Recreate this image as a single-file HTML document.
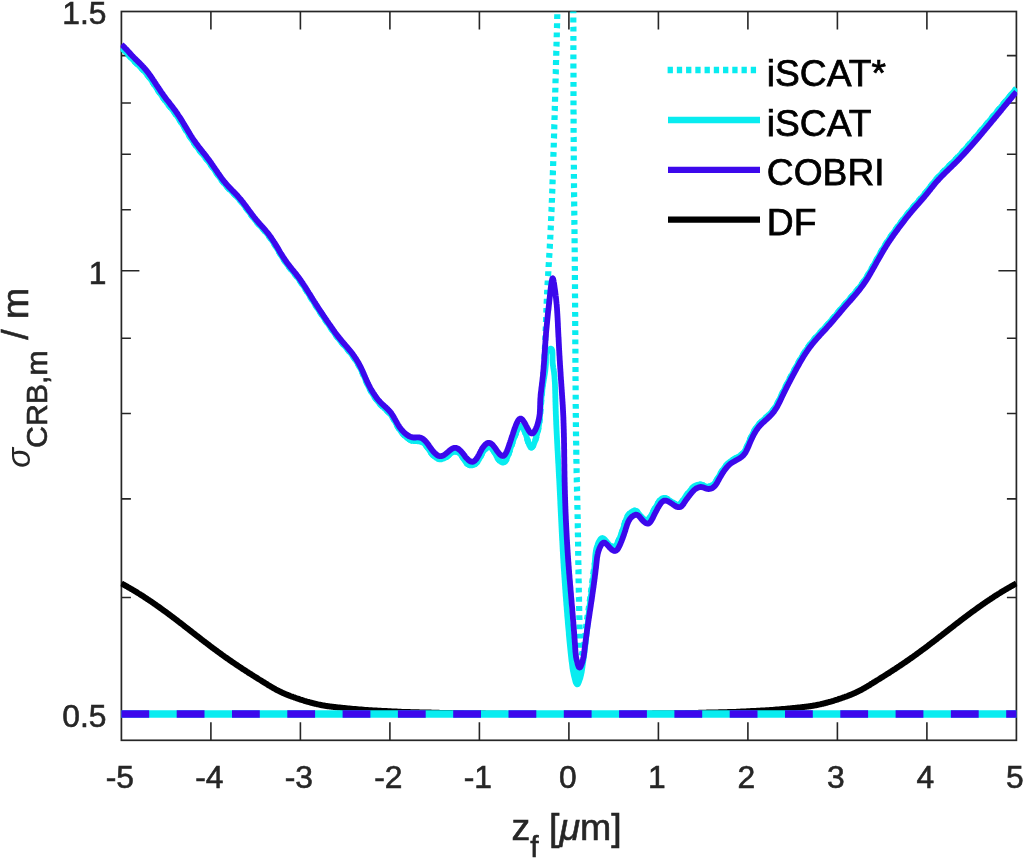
<!DOCTYPE html>
<html><head><meta charset="utf-8"><title>CRB plot</title>
<style>html,body{margin:0;padding:0;background:#fff}svg{display:block;filter:blur(0.45px)}</style></head>
<body>
<svg width="1025" height="859" viewBox="0 0 1025 859">
<defs><clipPath id="c"><rect x="120.6" y="11.5" width="896.6" height="728.8"/></clipPath></defs>
<rect width="1025" height="859" fill="#fff"/>
<path d="M210.9 740.3 v-18 M210.9 11.5 v18 M300.4 740.3 v-18 M300.4 11.5 v18 M389.9 740.3 v-18 M389.9 11.5 v18 M479.4 740.3 v-18 M479.4 11.5 v18 M568.9 740.3 v-18 M568.9 11.5 v18 M658.4 740.3 v-18 M658.4 11.5 v18 M747.9 740.3 v-18 M747.9 11.5 v18 M837.4 740.3 v-18 M837.4 11.5 v18 M926.9 740.3 v-18 M926.9 11.5 v18 M121.4 270.8 h18 M1016.4 270.8 h-18 M121.4 597.5 h9.5 M1016.4 597.5 h-9.5 M121.4 498.9 h9.5 M1016.4 498.9 h-9.5 M121.4 413.5 h9.5 M1016.4 413.5 h-9.5 M121.4 338.2 h9.5 M1016.4 338.2 h-9.5 M121.4 209.8 h9.5 M1016.4 209.8 h-9.5 M121.4 154.2 h9.5 M1016.4 154.2 h-9.5 M121.4 103.0 h9.5 M1016.4 103.0 h-9.5 M121.4 55.6 h9.5 M1016.4 55.6 h-9.5 M121.4 714.1 h18 M1016.4 714.1 h-18" stroke="#262626" stroke-width="1.6" fill="none"/>
<rect x="121.4" y="11.5" width="895.0" height="728.8" fill="none" stroke="#262626" stroke-width="1.7"/>
<g clip-path="url(#c)" fill="none" stroke-linejoin="round">
<path d="M121.4 583.4 L122.3 583.9 L123.2 584.4 L124.0 584.8 L124.9 585.3 L125.8 585.8 L126.7 586.3 L127.5 586.8 L128.4 587.3 L129.3 587.8 L130.1 588.3 L131.0 588.8 L131.9 589.3 L132.7 589.8 L133.6 590.3 L134.4 590.9 L135.3 591.4 L136.2 591.9 L137.0 592.4 L137.9 593.0 L138.7 593.5 L139.6 594.0 L140.4 594.6 L141.3 595.1 L142.1 595.6 L142.9 596.2 L143.8 596.7 L144.6 597.3 L145.5 597.8 L146.3 598.4 L147.1 598.9 L148.0 599.5 L148.8 600.0 L149.6 600.6 L150.5 601.1 L151.3 601.7 L152.1 602.3 L152.9 602.8 L153.8 603.4 L154.6 604.0 L155.4 604.5 L156.2 605.1 L157.0 605.7 L157.9 606.3 L158.7 606.9 L159.5 607.4 L160.3 608.0 L161.1 608.6 L161.9 609.2 L162.7 609.8 L163.6 610.4 L164.4 611.0 L165.2 611.5 L166.0 612.1 L166.8 612.7 L167.6 613.3 L168.4 613.9 L169.2 614.5 L170.0 615.1 L170.8 615.7 L171.6 616.3 L172.4 616.9 L173.2 617.5 L174.0 618.1 L174.8 618.7 L175.6 619.3 L176.4 619.9 L177.2 620.5 L178.0 621.2 L178.8 621.8 L179.6 622.4 L180.4 623.0 L181.2 623.6 L182.0 624.2 L182.8 624.8 L183.6 625.4 L184.3 626.1 L185.1 626.7 L185.9 627.3 L186.7 627.9 L187.5 628.5 L188.3 629.1 L189.1 629.7 L189.9 630.4 L190.7 631.0 L191.5 631.6 L192.2 632.2 L193.0 632.8 L193.8 633.4 L194.6 634.0 L195.4 634.7 L196.2 635.3 L197.0 635.9 L197.8 636.5 L198.6 637.1 L199.4 637.7 L200.1 638.3 L200.9 639.0 L201.7 639.6 L202.5 640.2 L203.3 640.8 L204.1 641.4 L204.9 642.0 L205.7 642.6 L206.5 643.2 L207.3 643.8 L208.1 644.4 L208.9 645.0 L209.7 645.7 L210.5 646.3 L211.3 646.9 L212.1 647.5 L212.9 648.1 L213.7 648.7 L214.5 649.3 L215.3 649.8 L216.1 650.4 L216.9 651.0 L217.7 651.6 L218.5 652.2 L219.4 652.8 L220.2 653.4 L221.0 654.0 L221.8 654.6 L222.6 655.2 L223.4 655.7 L224.2 656.3 L225.0 656.9 L225.9 657.5 L226.7 658.1 L227.5 658.6 L228.3 659.2 L229.1 659.8 L230.0 660.4 L230.8 660.9 L231.6 661.5 L232.4 662.1 L233.3 662.6 L234.1 663.2 L234.9 663.8 L235.7 664.3 L236.6 664.9 L237.4 665.4 L238.2 666.0 L239.1 666.5 L239.9 667.1 L240.7 667.7 L241.6 668.2 L242.4 668.8 L243.3 669.3 L244.1 669.8 L244.9 670.4 L245.8 670.9 L246.6 671.5 L247.5 672.0 L248.3 672.6 L249.1 673.1 L250.0 673.6 L250.8 674.2 L251.7 674.7 L252.5 675.2 L253.4 675.8 L254.2 676.3 L255.1 676.8 L255.9 677.4 L256.8 677.9 L257.6 678.4 L258.5 679.0 L259.3 679.5 L260.2 680.0 L261.0 680.5 L261.9 681.1 L262.7 681.6 L263.6 682.1 L264.4 682.6 L265.3 683.2 L266.1 683.7 L267.0 684.2 L267.8 684.8 L268.7 685.3 L269.6 685.8 L270.4 686.3 L271.3 686.8 L272.1 687.3 L273.0 687.8 L273.9 688.3 L274.8 688.8 L275.6 689.3 L276.5 689.8 L277.4 690.3 L278.3 690.7 L279.2 691.2 L280.1 691.6 L281.0 692.1 L281.9 692.5 L282.8 692.9 L283.7 693.3 L284.6 693.7 L285.5 694.1 L286.5 694.5 L287.4 694.9 L288.3 695.2 L289.3 695.6 L290.2 696.0 L291.1 696.3 L292.1 696.6 L293.0 697.0 L294.0 697.3 L294.9 697.7 L295.9 698.0 L296.8 698.3 L297.8 698.6 L298.7 698.9 L299.7 699.3 L300.6 699.6 L301.6 699.9 L302.5 700.2 L303.5 700.5 L304.4 700.8 L305.4 701.1 L306.3 701.4 L307.3 701.7 L308.3 701.9 L309.2 702.2 L310.2 702.5 L311.2 702.7 L312.1 703.0 L313.1 703.2 L314.1 703.5 L315.0 703.7 L316.0 703.9 L317.0 704.2 L318.0 704.4 L319.0 704.6 L319.9 704.8 L320.9 705.0 L321.9 705.2 L322.9 705.4 L323.9 705.5 L324.9 705.7 L325.8 705.9 L326.8 706.0 L327.8 706.2 L328.8 706.3 L329.8 706.4 L330.8 706.6 L331.8 706.7 L332.8 706.8 L333.8 706.9 L334.8 707.0 L335.8 707.2 L336.8 707.3 L337.8 707.4 L338.8 707.5 L339.8 707.6 L340.8 707.7 L341.8 707.8 L342.8 707.9 L343.8 708.0 L344.7 708.1 L345.7 708.2 L346.7 708.3 L347.7 708.4 L348.7 708.5 L349.7 708.6 L350.7 708.7 L351.7 708.8 L352.7 708.9 L353.7 708.9 L354.7 709.0 L355.7 709.1 L356.7 709.2 L357.7 709.3 L358.7 709.4 L359.7 709.5 L360.7 709.6 L361.7 709.6 L362.7 709.7 L363.7 709.8 L364.7 709.9 L365.7 709.9 L366.7 710.0 L367.7 710.1 L368.7 710.2 L369.7 710.2 L370.7 710.3 L371.7 710.3 L372.7 710.4 L373.7 710.5 L374.7 710.5 L375.7 710.6 L376.7 710.6 L377.7 710.7 L378.7 710.7 L379.7 710.8 L380.7 710.8 L381.7 710.9 L382.7 710.9 L383.7 711.0 L384.7 711.0 L385.7 711.1 L386.7 711.1 L387.7 711.2 L388.7 711.2 L389.7 711.3 L390.7 711.3 L391.7 711.4 L392.7 711.4 L393.7 711.5 L394.7 711.5 L395.7 711.6 L396.7 711.6 L397.7 711.7 L398.7 711.7 L399.7 711.8 L400.7 711.8 L401.7 711.9 L402.7 711.9 L403.7 711.9 L404.7 712.0 L405.7 712.0 L406.7 712.0 L407.7 712.1 L408.7 712.1 L409.7 712.1 L410.7 712.2 L411.7 712.2 L412.7 712.2 L413.7 712.2 L414.7 712.3 L415.7 712.3 L416.7 712.3 L417.7 712.3 L418.7 712.3 L419.7 712.4 L420.7 712.4 L421.7 712.4 L422.7 712.4 L423.7 712.5 L424.7 712.5 L425.7 712.5 L426.7 712.5 L427.7 712.6 L428.7 712.6 L429.7 712.6 L430.7 712.6 L431.7 712.7 L432.7 712.7 L433.7 712.7 L434.7 712.7 L435.7 712.8 L436.7 712.8 L437.7 712.8 L438.7 712.8 L439.7 712.9 L440.7 712.9 L441.7 712.9 L442.7 712.9 L443.7 713.0 L444.7 713.0 L445.7 713.0 L446.7 713.0 L447.7 713.0 L448.7 713.1 L449.7 713.1 L450.7 713.1 L451.7 713.1 L452.7 713.2 L453.7 713.2 L454.7 713.2 L455.7 713.2 L456.7 713.2 L457.7 713.3 L458.8 713.3 L459.8 713.3 L460.8 713.3 L461.8 713.3 L462.8 713.3 L463.8 713.4 L464.8 713.4 L465.8 713.4 L466.8 713.4 L467.8 713.4 L468.8 713.4 L469.8 713.5 L470.8 713.5 L471.8 713.5 L472.8 713.5 L473.8 713.5 L474.8 713.5 L475.8 713.5 L476.8 713.6 L477.8 713.6 L478.8 713.6 L479.8 713.6 L480.8 713.6 L481.8 713.6 L482.8 713.6 L483.8 713.6 L484.8 713.6 L485.8 713.7 L486.8 713.7 L487.8 713.7 L488.8 713.7 L489.8 713.7 L490.8 713.7 L491.8 713.7 L492.8 713.7 L493.8 713.7 L494.8 713.7 L495.8 713.8 L496.8 713.8 L497.8 713.8 L498.8 713.8 L499.8 713.8 L500.8 713.8 L501.8 713.8 L502.8 713.8 L503.8 713.8 L504.8 713.8 L505.8 713.8 L506.8 713.9 L507.8 713.9 L508.8 713.9 L509.8 713.9 L510.8 713.9 L511.8 713.9 L512.8 713.9 L513.8 713.9 L514.8 713.9 L515.8 713.9 L516.8 713.9 L517.8 713.9 L518.8 713.9 L519.8 713.9 L520.8 713.9 L521.8 714.0 L522.8 714.0 L523.8 714.0 L524.8 714.0 L525.8 714.0 L526.8 714.0 L527.8 714.0 L528.8 714.0 L529.8 714.0 L530.8 714.0 L531.8 714.0 L532.9 714.0 L533.9 714.0 L534.9 714.0 L535.9 714.0 L536.9 714.0 L537.9 714.0 L538.9 714.0 L539.9 714.0 L540.9 714.0 L541.9 714.1 L542.9 714.1 L543.9 714.1 L544.9 714.1 L545.9 714.1 L546.9 714.1 L547.9 714.1 L548.9 714.1 L549.9 714.1 L550.9 714.1 L551.9 714.1 L552.9 714.1 L553.9 714.1 L554.9 714.1 L555.9 714.1 L556.9 714.1 L557.9 714.1 L558.9 714.1 L559.9 714.1 L560.9 714.1 L561.9 714.1 L562.9 714.1 L563.9 714.1 L564.9 714.1 L565.9 714.1 L566.9 714.1 L567.9 714.1 L568.9 714.1 L569.9 714.1 L570.9 714.1 L571.9 714.1 L572.9 714.1 L573.9 714.1 L574.9 714.1 L575.9 714.1 L576.9 714.1 L577.9 714.1 L578.9 714.1 L579.9 714.1 L580.9 714.1 L581.9 714.1 L582.9 714.1 L583.9 714.1 L584.9 714.1 L585.9 714.1 L586.9 714.1 L587.9 714.1 L588.9 714.1 L589.9 714.1 L590.9 714.1 L591.9 714.1 L592.9 714.1 L593.9 714.1 L594.9 714.1 L595.9 714.1 L596.9 714.0 L597.9 714.0 L598.9 714.0 L599.9 714.0 L600.9 714.0 L601.9 714.0 L602.9 714.0 L603.9 714.0 L604.9 714.0 L606.0 714.0 L607.0 714.0 L608.0 714.0 L609.0 714.0 L610.0 714.0 L611.0 714.0 L612.0 714.0 L613.0 714.0 L614.0 714.0 L615.0 714.0 L616.0 714.0 L617.0 713.9 L618.0 713.9 L619.0 713.9 L620.0 713.9 L621.0 713.9 L622.0 713.9 L623.0 713.9 L624.0 713.9 L625.0 713.9 L626.0 713.9 L627.0 713.9 L628.0 713.9 L629.0 713.9 L630.0 713.9 L631.0 713.9 L632.0 713.8 L633.0 713.8 L634.0 713.8 L635.0 713.8 L636.0 713.8 L637.0 713.8 L638.0 713.8 L639.0 713.8 L640.0 713.8 L641.0 713.8 L642.0 713.8 L643.0 713.7 L644.0 713.7 L645.0 713.7 L646.0 713.7 L647.0 713.7 L648.0 713.7 L649.0 713.7 L650.0 713.7 L651.0 713.7 L652.0 713.7 L653.0 713.6 L654.0 713.6 L655.0 713.6 L656.0 713.6 L657.0 713.6 L658.0 713.6 L659.0 713.6 L660.0 713.6 L661.0 713.6 L662.0 713.5 L663.0 713.5 L664.0 713.5 L665.0 713.5 L666.0 713.5 L667.0 713.5 L668.0 713.5 L669.0 713.4 L670.0 713.4 L671.0 713.4 L672.0 713.4 L673.0 713.4 L674.0 713.4 L675.0 713.3 L676.0 713.3 L677.0 713.3 L678.0 713.3 L679.0 713.3 L680.1 713.3 L681.1 713.2 L682.1 713.2 L683.1 713.2 L684.1 713.2 L685.1 713.2 L686.1 713.1 L687.1 713.1 L688.1 713.1 L689.1 713.1 L690.1 713.0 L691.1 713.0 L692.1 713.0 L693.1 713.0 L694.1 713.0 L695.1 712.9 L696.1 712.9 L697.1 712.9 L698.1 712.9 L699.1 712.8 L700.1 712.8 L701.1 712.8 L702.1 712.8 L703.1 712.7 L704.1 712.7 L705.1 712.7 L706.1 712.7 L707.1 712.6 L708.1 712.6 L709.1 712.6 L710.1 712.6 L711.1 712.5 L712.1 712.5 L713.1 712.5 L714.1 712.5 L715.1 712.4 L716.1 712.4 L717.1 712.4 L718.1 712.4 L719.1 712.3 L720.1 712.3 L721.1 712.3 L722.1 712.3 L723.1 712.3 L724.1 712.2 L725.1 712.2 L726.1 712.2 L727.1 712.2 L728.1 712.1 L729.1 712.1 L730.1 712.1 L731.1 712.0 L732.1 712.0 L733.1 712.0 L734.1 711.9 L735.1 711.9 L736.1 711.9 L737.1 711.8 L738.1 711.8 L739.1 711.7 L740.1 711.7 L741.1 711.6 L742.1 711.6 L743.1 711.5 L744.1 711.5 L745.1 711.4 L746.1 711.4 L747.1 711.3 L748.1 711.3 L749.1 711.2 L750.1 711.2 L751.1 711.1 L752.1 711.1 L753.1 711.0 L754.1 711.0 L755.1 710.9 L756.1 710.9 L757.1 710.8 L758.1 710.8 L759.1 710.7 L760.1 710.7 L761.1 710.6 L762.1 710.6 L763.1 710.5 L764.1 710.5 L765.1 710.4 L766.1 710.3 L767.1 710.3 L768.1 710.2 L769.1 710.2 L770.1 710.1 L771.1 710.0 L772.1 709.9 L773.1 709.9 L774.1 709.8 L775.1 709.7 L776.1 709.6 L777.1 709.6 L778.1 709.5 L779.1 709.4 L780.1 709.3 L781.1 709.2 L782.1 709.1 L783.1 709.0 L784.1 708.9 L785.1 708.9 L786.1 708.8 L787.1 708.7 L788.1 708.6 L789.1 708.5 L790.1 708.4 L791.1 708.3 L792.1 708.2 L793.1 708.1 L794.0 708.0 L795.0 707.9 L796.0 707.8 L797.0 707.7 L798.0 707.6 L799.0 707.5 L800.0 707.4 L801.0 707.3 L802.0 707.2 L803.0 707.0 L804.0 706.9 L805.0 706.8 L806.0 706.7 L807.0 706.6 L808.0 706.4 L809.0 706.3 L810.0 706.2 L811.0 706.0 L812.0 705.9 L812.9 705.7 L813.9 705.5 L814.9 705.4 L815.9 705.2 L816.9 705.0 L817.9 704.8 L818.8 704.6 L819.8 704.4 L820.8 704.2 L821.8 703.9 L822.8 703.7 L823.7 703.5 L824.7 703.2 L825.7 703.0 L826.6 702.7 L827.6 702.5 L828.6 702.2 L829.5 701.9 L830.5 701.7 L831.5 701.4 L832.4 701.1 L833.4 700.8 L834.3 700.5 L835.3 700.2 L836.2 699.9 L837.2 699.6 L838.1 699.3 L839.1 698.9 L840.0 698.6 L841.0 698.3 L841.9 698.0 L842.9 697.7 L843.8 697.3 L844.8 697.0 L845.7 696.6 L846.7 696.3 L847.6 696.0 L848.5 695.6 L849.5 695.2 L850.4 694.9 L851.3 694.5 L852.3 694.1 L853.2 693.7 L854.1 693.3 L855.0 692.9 L855.9 692.5 L856.8 692.1 L857.7 691.6 L858.6 691.2 L859.5 690.7 L860.4 690.3 L861.3 689.8 L862.2 689.3 L863.0 688.8 L863.9 688.3 L864.8 687.8 L865.7 687.3 L866.5 686.8 L867.4 686.3 L868.2 685.8 L869.1 685.3 L870.0 684.8 L870.8 684.2 L871.7 683.7 L872.5 683.2 L873.4 682.6 L874.2 682.1 L875.1 681.6 L875.9 681.1 L876.8 680.5 L877.6 680.0 L878.5 679.5 L879.3 679.0 L880.2 678.4 L881.0 677.9 L881.9 677.4 L882.7 676.8 L883.6 676.3 L884.4 675.8 L885.3 675.2 L886.1 674.7 L887.0 674.2 L887.8 673.6 L888.7 673.1 L889.5 672.6 L890.3 672.0 L891.2 671.5 L892.0 670.9 L892.9 670.4 L893.7 669.8 L894.5 669.3 L895.4 668.8 L896.2 668.2 L897.1 667.7 L897.9 667.1 L898.7 666.5 L899.6 666.0 L900.4 665.4 L901.2 664.9 L902.1 664.3 L902.9 663.8 L903.7 663.2 L904.5 662.6 L905.4 662.1 L906.2 661.5 L907.0 660.9 L907.8 660.4 L908.7 659.8 L909.5 659.2 L910.3 658.6 L911.1 658.1 L911.9 657.5 L912.8 656.9 L913.6 656.3 L914.4 655.7 L915.2 655.2 L916.0 654.6 L916.8 654.0 L917.6 653.4 L918.4 652.8 L919.3 652.2 L920.1 651.6 L920.9 651.0 L921.7 650.4 L922.5 649.8 L923.3 649.3 L924.1 648.7 L924.9 648.1 L925.7 647.5 L926.5 646.9 L927.3 646.3 L928.1 645.7 L928.9 645.0 L929.7 644.4 L930.5 643.8 L931.3 643.2 L932.1 642.6 L932.9 642.0 L933.7 641.4 L934.5 640.8 L935.3 640.2 L936.1 639.6 L936.9 639.0 L937.7 638.3 L938.4 637.7 L939.2 637.1 L940.0 636.5 L940.8 635.9 L941.6 635.3 L942.4 634.7 L943.2 634.0 L944.0 633.4 L944.8 632.8 L945.6 632.2 L946.3 631.6 L947.1 631.0 L947.9 630.4 L948.7 629.7 L949.5 629.1 L950.3 628.5 L951.1 627.9 L951.9 627.3 L952.7 626.7 L953.5 626.1 L954.2 625.4 L955.0 624.8 L955.8 624.2 L956.6 623.6 L957.4 623.0 L958.2 622.4 L959.0 621.8 L959.8 621.2 L960.6 620.5 L961.4 619.9 L962.2 619.3 L963.0 618.7 L963.8 618.1 L964.6 617.5 L965.4 616.9 L966.2 616.3 L967.0 615.7 L967.8 615.1 L968.6 614.5 L969.4 613.9 L970.2 613.3 L971.0 612.7 L971.8 612.1 L972.6 611.5 L973.4 611.0 L974.2 610.4 L975.1 609.8 L975.9 609.2 L976.7 608.6 L977.5 608.0 L978.3 607.4 L979.1 606.9 L979.9 606.3 L980.8 605.7 L981.6 605.1 L982.4 604.5 L983.2 604.0 L984.0 603.4 L984.9 602.8 L985.7 602.3 L986.5 601.7 L987.3 601.1 L988.2 600.6 L989.0 600.0 L989.8 599.5 L990.7 598.9 L991.5 598.4 L992.3 597.8 L993.2 597.3 L994.0 596.7 L994.9 596.2 L995.7 595.6 L996.5 595.1 L997.4 594.6 L998.2 594.0 L999.1 593.5 L999.9 593.0 L1000.8 592.4 L1001.6 591.9 L1002.5 591.4 L1003.4 590.9 L1004.2 590.3 L1005.1 589.8 L1005.9 589.3 L1006.8 588.8 L1007.7 588.3 L1008.5 587.8 L1009.4 587.3 L1010.3 586.8 L1011.1 586.3 L1012.0 585.8 L1012.9 585.3 L1013.8 584.8 L1014.6 584.4 L1015.5 583.9 L1016.4 583.4" stroke="#000" stroke-width="6.0"/>
<path d="M121.4 47.8 L122.1 48.5 L122.9 49.1 L123.6 49.8 L124.3 50.5 L125.0 51.3 L125.7 52.0 L126.4 52.7 L127.1 53.4 L127.8 54.2 L128.4 54.9 L129.1 55.7 L129.8 56.4 L130.5 57.2 L131.1 57.9 L131.8 58.6 L132.5 59.4 L133.2 60.1 L133.9 60.8 L134.6 61.5 L135.3 62.2 L136.0 62.9 L136.7 63.6 L137.5 64.3 L138.2 65.0 L138.9 65.7 L139.6 66.4 L140.3 67.1 L141.0 67.8 L141.7 68.5 L142.4 69.2 L143.1 70.0 L143.8 70.7 L144.5 71.5 L145.1 72.2 L145.8 73.0 L146.4 73.7 L147.0 74.5 L147.7 75.3 L148.3 76.1 L148.9 76.9 L149.5 77.7 L150.1 78.5 L150.6 79.4 L151.2 80.2 L151.8 81.0 L152.3 81.8 L152.9 82.7 L153.5 83.5 L154.0 84.3 L154.6 85.2 L155.1 86.0 L155.7 86.8 L156.2 87.7 L156.8 88.5 L157.3 89.4 L157.9 90.2 L158.4 91.0 L159.0 91.9 L159.5 92.7 L160.1 93.5 L160.7 94.3 L161.2 95.2 L161.8 96.0 L162.4 96.8 L163.0 97.6 L163.5 98.4 L164.1 99.2 L164.7 100.0 L165.3 100.8 L166.0 101.6 L166.6 102.4 L167.2 103.2 L167.8 104.0 L168.4 104.8 L169.0 105.6 L169.7 106.4 L170.3 107.2 L170.9 107.9 L171.5 108.7 L172.1 109.5 L172.7 110.3 L173.4 111.1 L174.0 111.9 L174.6 112.7 L175.2 113.5 L175.7 114.3 L176.3 115.1 L176.9 116.0 L177.5 116.8 L178.0 117.6 L178.6 118.4 L179.2 119.3 L179.7 120.1 L180.2 121.0 L180.8 121.8 L181.3 122.6 L181.8 123.5 L182.4 124.4 L182.9 125.2 L183.4 126.1 L183.9 126.9 L184.5 127.8 L185.0 128.6 L185.5 129.5 L186.0 130.4 L186.5 131.2 L187.0 132.1 L187.5 132.9 L188.1 133.8 L188.6 134.6 L189.1 135.5 L189.6 136.3 L190.2 137.2 L190.7 138.0 L191.2 138.9 L191.8 139.7 L192.3 140.6 L192.9 141.4 L193.5 142.2 L194.0 143.1 L194.6 143.9 L195.2 144.7 L195.8 145.5 L196.4 146.3 L197.0 147.1 L197.6 147.9 L198.2 148.7 L198.8 149.5 L199.4 150.3 L200.0 151.1 L200.6 151.9 L201.3 152.6 L201.9 153.4 L202.5 154.2 L203.2 155.0 L203.8 155.7 L204.4 156.5 L205.1 157.3 L205.7 158.1 L206.3 158.9 L206.9 159.7 L207.5 160.5 L208.1 161.3 L208.7 162.1 L209.3 162.9 L209.9 163.7 L210.5 164.5 L211.1 165.3 L211.7 166.1 L212.3 166.9 L212.8 167.7 L213.4 168.6 L214.0 169.4 L214.5 170.2 L215.1 171.0 L215.7 171.9 L216.3 172.7 L216.8 173.5 L217.4 174.3 L218.0 175.2 L218.5 176.0 L219.1 176.8 L219.7 177.6 L220.3 178.4 L220.9 179.2 L221.5 180.0 L222.1 180.8 L222.7 181.6 L223.3 182.4 L223.9 183.2 L224.6 184.0 L225.2 184.7 L225.9 185.5 L226.6 186.2 L227.2 187.0 L227.9 187.7 L228.6 188.5 L229.3 189.2 L230.0 189.9 L230.7 190.6 L231.4 191.3 L232.1 192.0 L232.8 192.7 L233.5 193.4 L234.2 194.1 L235.0 194.8 L235.7 195.5 L236.4 196.3 L237.0 197.0 L237.7 197.7 L238.4 198.5 L239.1 199.2 L239.7 200.0 L240.4 200.7 L241.0 201.5 L241.7 202.3 L242.3 203.0 L242.9 203.8 L243.5 204.6 L244.1 205.4 L244.8 206.2 L245.3 207.0 L245.9 207.8 L246.5 208.6 L247.1 209.4 L247.7 210.2 L248.3 211.1 L248.9 211.9 L249.5 212.7 L250.1 213.5 L250.7 214.3 L251.3 215.1 L251.9 215.9 L252.5 216.7 L253.1 217.5 L253.7 218.3 L254.3 219.1 L255.0 219.8 L255.6 220.6 L256.2 221.4 L256.9 222.2 L257.5 222.9 L258.2 223.7 L258.8 224.4 L259.5 225.2 L260.2 225.9 L260.8 226.7 L261.5 227.4 L262.2 228.2 L262.8 228.9 L263.5 229.7 L264.2 230.4 L264.8 231.2 L265.5 231.9 L266.1 232.7 L266.8 233.5 L267.4 234.2 L268.0 235.0 L268.6 235.8 L269.2 236.6 L269.8 237.4 L270.4 238.2 L271.0 239.1 L271.6 239.9 L272.1 240.7 L272.7 241.5 L273.2 242.4 L273.8 243.2 L274.3 244.1 L274.8 244.9 L275.4 245.8 L275.9 246.6 L276.4 247.5 L276.9 248.3 L277.4 249.2 L277.9 250.1 L278.4 250.9 L279.0 251.8 L279.5 252.7 L280.0 253.5 L280.5 254.4 L281.0 255.2 L281.5 256.1 L282.1 256.9 L282.6 257.8 L283.1 258.6 L283.7 259.5 L284.2 260.3 L284.8 261.1 L285.4 262.0 L285.9 262.8 L286.5 263.6 L287.1 264.4 L287.7 265.2 L288.3 266.0 L288.9 266.8 L289.5 267.6 L290.2 268.4 L290.8 269.2 L291.4 269.9 L292.1 270.7 L292.7 271.5 L293.3 272.3 L294.0 273.0 L294.6 273.8 L295.2 274.6 L295.8 275.4 L296.5 276.2 L297.1 277.0 L297.7 277.8 L298.3 278.6 L298.9 279.4 L299.5 280.2 L300.0 281.0 L300.6 281.8 L301.2 282.6 L301.8 283.5 L302.3 284.3 L302.9 285.1 L303.4 286.0 L304.0 286.8 L304.5 287.6 L305.1 288.5 L305.6 289.3 L306.2 290.2 L306.7 291.0 L307.2 291.9 L307.8 292.7 L308.3 293.6 L308.8 294.4 L309.3 295.3 L309.9 296.1 L310.4 297.0 L310.9 297.8 L311.4 298.7 L312.0 299.5 L312.5 300.4 L313.0 301.2 L313.6 302.1 L314.1 302.9 L314.6 303.8 L315.2 304.6 L315.7 305.5 L316.2 306.3 L316.8 307.1 L317.3 308.0 L317.9 308.8 L318.4 309.7 L319.0 310.5 L319.5 311.3 L320.1 312.2 L320.6 313.0 L321.2 313.8 L321.7 314.7 L322.3 315.5 L322.8 316.3 L323.4 317.2 L324.0 318.0 L324.5 318.8 L325.1 319.7 L325.7 320.5 L326.2 321.3 L326.8 322.1 L327.4 323.0 L327.9 323.8 L328.5 324.6 L329.1 325.4 L329.6 326.3 L330.2 327.1 L330.8 327.9 L331.3 328.7 L331.9 329.6 L332.5 330.4 L333.1 331.2 L333.6 332.0 L334.2 332.9 L334.8 333.7 L335.4 334.5 L336.0 335.3 L336.5 336.1 L337.1 336.9 L337.8 337.7 L338.4 338.5 L339.0 339.3 L339.6 340.0 L340.3 340.8 L340.9 341.6 L341.5 342.4 L342.2 343.1 L342.8 343.9 L343.5 344.7 L344.1 345.4 L344.8 346.2 L345.4 347.0 L346.1 347.7 L346.7 348.5 L347.4 349.2 L348.0 350.0 L348.6 350.8 L349.3 351.6 L349.9 352.3 L350.5 353.1 L351.1 353.9 L351.8 354.7 L352.4 355.5 L352.9 356.3 L353.5 357.1 L354.1 358.0 L354.7 358.8 L355.2 359.6 L355.8 360.5 L356.3 361.3 L356.8 362.2 L357.4 363.0 L357.9 363.9 L358.4 364.8 L358.9 365.6 L359.4 366.5 L359.8 367.4 L360.3 368.3 L360.7 369.2 L361.2 370.1 L361.6 371.0 L362.0 371.9 L362.4 372.8 L362.8 373.7 L363.2 374.6 L363.6 375.6 L364.0 376.5 L364.4 377.4 L364.8 378.3 L365.2 379.2 L365.6 380.2 L366.0 381.1 L366.4 382.0 L366.8 382.9 L367.3 383.8 L367.7 384.7 L368.1 385.6 L368.5 386.5 L369.0 387.4 L369.4 388.3 L369.9 389.2 L370.4 390.1 L370.8 391.0 L371.3 391.8 L371.9 392.7 L372.4 393.6 L372.9 394.4 L373.4 395.3 L374.0 396.1 L374.5 396.9 L375.1 397.8 L375.7 398.6 L376.3 399.4 L376.9 400.2 L377.5 401.0 L378.1 401.8 L378.7 402.6 L379.4 403.3 L380.0 404.1 L380.7 404.8 L381.4 405.5 L382.2 406.2 L382.9 406.9 L383.6 407.6 L384.4 408.3 L385.1 409.0 L385.9 409.6 L386.6 410.3 L387.3 411.0 L388.0 411.7 L388.7 412.4 L389.4 413.2 L390.0 413.9 L390.7 414.7 L391.2 415.5 L391.8 416.3 L392.4 417.1 L392.9 418.0 L393.4 418.8 L393.9 419.7 L394.4 420.6 L394.9 421.5 L395.4 422.4 L395.9 423.2 L396.4 424.1 L396.9 425.0 L397.3 425.9 L397.8 426.8 L398.4 427.6 L398.9 428.5 L399.4 429.3 L400.0 430.1 L400.6 431.0 L401.2 431.8 L401.8 432.5 L402.4 433.3 L403.1 434.1 L403.8 434.8 L404.5 435.5 L405.2 436.3 L405.9 436.9 L406.7 437.6 L407.5 438.3 L408.4 438.9 L409.2 439.4 L410.1 439.9 L411.0 440.4 L412.0 440.7 L412.9 440.9 L413.9 441.1 L414.9 441.1 L415.9 441.1 L416.9 441.1 L418.0 441.1 L419.0 441.1 L419.9 441.3 L420.9 441.6 L421.8 441.9 L422.6 442.4 L423.5 443.0 L424.3 443.7 L425.0 444.4 L425.7 445.2 L426.4 446.0 L427.0 446.8 L427.6 447.6 L428.2 448.5 L428.7 449.3 L429.3 450.2 L429.8 451.0 L430.4 451.8 L430.9 452.6 L431.5 453.4 L432.1 454.2 L432.8 455.0 L433.5 455.7 L434.2 456.4 L435.1 457.0 L435.9 457.6 L436.8 458.2 L437.8 458.6 L438.7 458.9 L439.7 459.1 L440.6 459.2 L441.6 459.1 L442.5 459.0 L443.5 458.7 L444.4 458.2 L445.3 457.7 L446.2 457.2 L447.1 456.5 L448.0 455.9 L448.8 455.1 L449.7 454.4 L450.5 453.7 L451.4 453.1 L452.2 452.5 L453.1 452.0 L453.9 451.7 L454.8 451.5 L455.7 451.5 L456.6 451.7 L457.5 452.1 L458.3 452.6 L459.2 453.2 L460.0 454.0 L460.8 454.8 L461.5 455.6 L462.2 456.5 L462.8 457.4 L463.3 458.3 L463.9 459.2 L464.4 460.1 L464.9 461.0 L465.5 461.8 L466.0 462.6 L466.7 463.3 L467.4 463.9 L468.2 464.4 L469.1 464.9 L470.1 465.2 L471.1 465.4 L472.1 465.4 L473.1 465.2 L474.0 464.8 L474.8 464.3 L475.7 463.6 L476.4 462.9 L477.1 462.1 L477.8 461.3 L478.4 460.4 L478.9 459.6 L479.4 458.8 L479.8 457.9 L480.3 457.0 L480.7 456.2 L481.2 455.3 L481.6 454.4 L482.1 453.6 L482.6 452.7 L483.2 451.8 L483.8 450.9 L484.5 450.0 L485.2 449.2 L486.0 448.4 L486.8 447.7 L487.7 447.3 L488.5 447.0 L489.4 447.1 L490.2 447.3 L491.0 447.9 L491.8 448.6 L492.5 449.4 L493.2 450.3 L493.9 451.3 L494.4 452.2 L495.0 453.2 L495.4 454.1 L495.9 455.0 L496.3 455.8 L496.8 456.7 L497.3 457.5 L497.8 458.3 L498.3 459.2 L499.0 460.0 L499.7 460.8 L500.5 461.5 L501.3 462.2 L502.2 462.5 L503.0 462.6 L503.7 462.5 L504.4 462.0 L505.1 461.4 L505.7 460.6 L506.3 459.6 L506.8 458.5 L507.3 457.4 L507.8 456.2 L508.2 455.0 L508.7 453.9 L509.0 452.8 L509.4 451.7 L509.8 450.7 L510.1 449.8 L510.4 448.9 L510.7 448.0 L511.0 447.1 L511.3 446.2 L511.6 445.4 L511.9 444.5 L512.2 443.6 L512.5 442.7 L512.8 441.8 L513.2 440.9 L513.5 439.9 L513.9 438.9 L514.3 437.8 L514.7 436.6 L515.1 435.4 L515.6 434.3 L516.1 433.1 L516.6 431.9 L517.1 430.8 L517.6 429.7 L518.1 428.8 L518.6 427.9 L519.1 427.2 L519.7 426.6 L520.2 426.2 L520.7 426.0 L521.2 426.0 L521.7 426.2 L522.2 426.7 L522.7 427.2 L523.2 428.0 L523.7 428.9 L524.1 429.9 L524.6 431.0 L525.1 432.2 L525.5 433.5 L525.9 434.8 L526.4 436.2 L526.8 437.6 L527.2 438.9 L527.6 440.3 L528.0 441.5 L528.4 442.7 L528.8 443.9 L529.2 444.9 L529.6 445.8 L530.0 446.5 L530.5 447.0 L530.9 447.4 L531.3 447.5 L531.7 447.4 L532.2 447.1 L532.6 446.5 L533.1 445.8 L533.5 444.9 L534.0 443.9 L534.4 442.8 L534.8 441.7 L535.2 440.4 L535.6 439.2 L536.0 437.9 L536.4 436.7 L536.7 435.5 L537.0 434.4 L537.3 433.2 L537.6 432.1 L537.8 431.0 L538.1 430.0 L538.3 428.9 L538.5 427.9 L538.7 426.9 L538.8 425.9 L539.0 424.9 L539.1 424.0 L539.3 423.0 L539.4 422.1 L539.5 421.1 L539.6 420.2 L539.7 419.3 L539.8 418.4 L539.9 417.5 L540.0 416.6 L540.1 415.7 L540.1 414.8 L540.2 413.9 L540.3 413.0 L540.3 412.1 L540.4 411.2 L540.5 410.3 L540.6 409.3 L540.6 408.4 L540.7 407.4 L540.8 406.5 L540.9 405.5 L540.9 404.6 L541.0 403.6 L541.1 402.6 L541.2 401.7 L541.3 400.7 L541.3 399.7 L541.4 398.7 L541.5 397.7 L541.6 396.7 L541.7 395.7 L541.8 394.7 L541.9 393.6 L542.0 392.6 L542.0 391.6 L542.1 390.6 L542.2 389.6 L542.3 388.5 L542.4 387.5 L542.5 386.5 L542.6 385.5 L542.6 384.4 L542.7 383.4 L542.8 382.4 L542.9 381.4 L543.0 380.3 L543.1 379.3 L543.1 378.3 L543.2 377.3 L543.3 376.3 L543.4 375.2 L543.4 374.2 L543.5 373.2 L543.6 372.2 L543.6 371.2 L543.7 370.2 L543.8 369.2 L543.8 368.2 L543.9 367.2 L544.0 366.1 L544.0 365.1 L544.1 364.1 L544.1 363.1 L544.2 362.1 L544.3 361.1 L544.3 360.1 L544.4 359.1 L544.4 358.1 L544.5 357.1 L544.5 356.1 L544.6 355.1 L544.6 354.2 L544.7 353.2 L544.7 352.2 L544.8 351.2 L544.8 350.2 L544.9 349.2 L544.9 348.2 L545.0 347.2 L545.0 346.2 L545.1 345.2 L545.1 344.2 L545.2 343.2 L545.2 342.2 L545.2 341.2 L545.3 340.2 L545.3 339.3 L545.4 338.3 L545.4 337.3 L545.5 336.3 L545.5 335.3 L545.5 334.3 L545.6 333.3 L545.6 332.3 L545.6 331.3 L545.7 330.3 L545.7 329.3 L545.8 328.3 L545.8 327.3 L545.8 326.3 L545.9 325.3 L545.9 324.3 L545.9 323.3 L546.0 322.3 L546.0 321.3 L546.1 320.3 L546.1 319.3 L546.1 318.3 L546.2 317.3 L546.2 316.3 L546.2 315.3 L546.3 314.3 L546.3 313.3 L546.4 312.3 L546.4 311.3 L546.4 310.3 L546.5 309.3 L546.5 308.3 L546.5 307.3 L546.6 306.3 L546.6 305.3 L546.7 304.3 L546.7 303.3 L546.7 302.3 L546.8 301.3 L546.8 300.3 L546.9 299.3 L546.9 298.3 L547.0 297.3 L547.0 296.3 L547.0 295.3 L547.1 294.3 L547.1 293.3 L547.2 292.3 L547.2 291.3 L547.3 290.3 L547.3 289.3 L547.4 288.3 L547.4 287.3 L547.5 286.3 L547.5 285.3 L547.6 284.3 L547.6 283.3 L547.7 282.3 L547.8 281.3 L547.8 280.3 L547.9 279.3 L547.9 278.3 L548.0 277.3 L548.0 276.3 L548.1 275.3 L548.2 274.3 L548.2 273.3 L548.3 272.3 L548.3 271.3 L548.4 270.3 L548.5 269.3 L548.5 268.3 L548.6 267.3 L548.6 266.3 L548.7 265.3 L548.8 264.3 L548.8 263.3 L548.9 262.3 L548.9 261.3 L549.0 260.3 L549.1 259.3 L549.1 258.3 L549.2 257.3 L549.2 256.3 L549.3 255.3 L549.4 254.3 L549.4 253.3 L549.5 252.3 L549.5 251.3 L549.6 250.3 L549.6 249.3 L549.7 248.3 L549.8 247.3 L549.8 246.3 L549.9 245.3 L549.9 244.3 L550.0 243.3 L550.0 242.3 L550.1 241.3 L550.1 240.3 L550.2 239.3 L550.2 238.3 L550.3 237.3 L550.3 236.3 L550.4 235.3 L550.4 234.3 L550.5 233.3 L550.5 232.3 L550.6 231.3 L550.6 230.3 L550.7 229.3 L550.7 228.3 L550.8 227.3 L550.8 226.3 L550.9 225.3 L550.9 224.3 L551.0 223.3 L551.0 222.3 L551.1 221.3 L551.1 220.3 L551.1 219.3 L551.2 218.3 L551.2 217.3 L551.3 216.3 L551.3 215.3 L551.4 214.3 L551.4 213.3 L551.4 212.3 L551.5 211.3 L551.5 210.3 L551.6 209.3 L551.6 208.3 L551.6 207.3 L551.7 206.3 L551.7 205.3 L551.8 204.3 L551.8 203.3 L551.8 202.3 L551.9 201.3 L551.9 200.3 L552.0 199.3 L552.0 198.3 L552.0 197.3 L552.1 196.3 L552.1 195.3 L552.1 194.3 L552.2 193.3 L552.2 192.3 L552.3 191.3 L552.3 190.3 L552.3 189.3 L552.4 188.3 L552.4 187.3 L552.4 186.2 L552.5 185.2 L552.5 184.2 L552.5 183.2 L552.6 182.2 L552.6 181.2 L552.6 180.2 L552.7 179.2 L552.7 178.2 L552.7 177.2 L552.8 176.2 L552.8 175.2 L552.8 174.2 L552.9 173.2 L552.9 172.2 L552.9 171.2 L553.0 170.2 L553.0 169.2 L553.0 168.2 L553.1 167.2 L553.1 166.2 L553.1 165.2 L553.2 164.2 L553.2 163.2 L553.2 162.2 L553.3 161.2 L553.3 160.2 L553.3 159.2 L553.4 158.2 L553.4 157.2 L553.4 156.2 L553.4 155.2 L553.5 154.2 L553.5 153.2 L553.5 152.2 L553.6 151.2 L553.6 150.2 L553.6 149.2 L553.7 148.2 L553.7 147.2 L553.7 146.2 L553.8 145.2 L553.8 144.2 L553.8 143.2 L553.8 142.2 L553.9 141.2 L553.9 140.2 L553.9 139.2 L554.0 138.2 L554.0 137.2 L554.0 136.2 L554.0 135.2 L554.1 134.2 L554.1 133.2 L554.1 132.2 L554.2 131.2 L554.2 130.2 L554.2 129.2 L554.3 128.2 L554.3 127.2 L554.3 126.2 L554.3 125.2 L554.4 124.2 L554.4 123.2 L554.4 122.2 L554.4 121.2 L554.5 120.2 L554.5 119.2 L554.5 118.2 L554.6 117.2 L554.6 116.2 L554.6 115.2 L554.6 114.2 L554.7 113.2 L554.7 112.2 L554.7 111.1 L554.8 110.1 L554.8 109.1 L554.8 108.1 L554.8 107.1 L554.9 106.1 L554.9 105.1 L554.9 104.1 L555.0 103.1 L555.0 102.1 L555.0 101.1 L555.0 100.1 L555.1 99.1 L555.1 98.1 L555.1 97.1 L555.1 96.1 L555.2 95.1 L555.2 94.1 L555.2 93.1 L555.2 92.1 L555.3 91.1 L555.3 90.1 L555.3 89.1 L555.4 88.1 L555.4 87.1 L555.4 86.1 L555.4 85.1 L555.5 84.1 L555.5 83.1 L555.5 82.1 L555.5 81.1 L555.6 80.1 L555.6 79.1 L555.6 78.1 L555.7 77.1 L555.7 76.1 L555.7 75.1 L555.7 74.1 L555.8 73.1 L555.8 72.1 L555.8 71.1 L555.8 70.1 L555.9 69.1 L555.9 68.1 L555.9 67.1 L555.9 66.1 L556.0 65.1 L556.0 64.1 L556.0 63.1 L556.0 62.1 L556.1 61.1 L556.1 60.1 L556.1 59.1 L556.2 58.1 L556.2 57.1 L556.2 56.1 L556.2 55.1 L556.3 54.1 L556.3 53.1 L556.3 52.1 L556.3 51.1 L556.4 50.1 L556.4 49.1 L556.4 48.1 L556.4 47.1 L556.5 46.1 L556.5 45.1 L556.5 44.1 L556.6 43.1 L556.6 42.1 L556.6 41.1 L556.6 40.1 L556.7 39.1 L556.7 38.1 L556.7 37.1 L556.7 36.1 L556.8 35.1 L556.8 34.1 L556.8 33.1 L556.8 32.1 L556.9 31.1 L556.9 30.0 L556.9 29.0 L557.0 28.0 L557.0 27.0 L557.0 26.0 L557.0 25.0 L557.1 24.0 L557.1 23.0 L557.1 22.0 L557.1 21.0 L557.2 20.0 L557.2 19.0 L557.2 18.0 L557.2 17.0 L557.3 16.0 L557.3 15.0 L557.3 14.0 L557.4 13.0 L557.4 12.0 L557.4 11.0 L557.4 10.0 L557.5 9.0 L557.5 8.0 L557.5 7.0 L557.6 6.0 L557.6 5.0 L557.6 4.0 L557.6 3.0 L557.7 2.0 L557.7 1.0 L557.7 0.0 L557.7 -1.0 L557.8 -2.0 L557.8 -3.0 L557.8 -4.0 L557.9 -5.0 L557.9 -6.0 L557.9 -7.0 L557.9 -8.0 L558.0 -9.0 L558.0 -10.0" stroke="#08ECF0" stroke-width="6.2" stroke-dasharray="4.8 4.4"/>
<path d="M573.2 -10.0 L573.2 -9.0 L573.2 -8.0 L573.2 -7.0 L573.2 -6.0 L573.2 -5.0 L573.2 -4.0 L573.2 -3.0 L573.2 -2.0 L573.2 -1.0 L573.3 0.0 L573.3 1.0 L573.3 2.0 L573.3 3.0 L573.3 4.0 L573.3 5.0 L573.3 6.0 L573.3 7.0 L573.3 8.0 L573.3 9.0 L573.3 10.0 L573.3 11.0 L573.3 12.0 L573.3 13.0 L573.3 14.0 L573.3 15.0 L573.3 16.0 L573.3 17.0 L573.3 18.0 L573.3 19.0 L573.3 20.0 L573.3 21.0 L573.3 22.1 L573.3 23.1 L573.3 24.1 L573.3 25.1 L573.3 26.1 L573.4 27.1 L573.4 28.1 L573.4 29.1 L573.4 30.1 L573.4 31.1 L573.4 32.1 L573.4 33.1 L573.4 34.1 L573.4 35.1 L573.4 36.1 L573.4 37.1 L573.4 38.1 L573.4 39.1 L573.4 40.1 L573.4 41.1 L573.4 42.1 L573.4 43.1 L573.4 44.1 L573.4 45.1 L573.4 46.1 L573.4 47.1 L573.4 48.1 L573.4 49.1 L573.4 50.1 L573.4 51.1 L573.4 52.1 L573.4 53.1 L573.4 54.1 L573.4 55.1 L573.4 56.1 L573.4 57.1 L573.4 58.1 L573.4 59.1 L573.4 60.1 L573.4 61.1 L573.4 62.1 L573.4 63.1 L573.4 64.1 L573.4 65.1 L573.4 66.1 L573.4 67.1 L573.4 68.1 L573.4 69.1 L573.4 70.1 L573.4 71.1 L573.5 72.1 L573.5 73.1 L573.5 74.1 L573.5 75.1 L573.5 76.1 L573.5 77.1 L573.5 78.1 L573.5 79.1 L573.5 80.1 L573.5 81.1 L573.5 82.1 L573.5 83.1 L573.5 84.1 L573.5 85.2 L573.5 86.2 L573.5 87.2 L573.5 88.2 L573.5 89.2 L573.5 90.2 L573.5 91.2 L573.5 92.2 L573.5 93.2 L573.5 94.2 L573.5 95.2 L573.5 96.2 L573.5 97.2 L573.5 98.2 L573.5 99.2 L573.5 100.2 L573.5 101.2 L573.5 102.2 L573.5 103.2 L573.5 104.2 L573.5 105.2 L573.5 106.2 L573.5 107.2 L573.5 108.2 L573.5 109.2 L573.5 110.2 L573.5 111.2 L573.5 112.2 L573.6 113.2 L573.6 114.2 L573.6 115.2 L573.6 116.2 L573.6 117.2 L573.6 118.2 L573.6 119.2 L573.6 120.2 L573.6 121.2 L573.6 122.2 L573.6 123.2 L573.6 124.2 L573.6 125.2 L573.6 126.2 L573.6 127.2 L573.6 128.2 L573.6 129.2 L573.6 130.2 L573.6 131.2 L573.6 132.2 L573.6 133.2 L573.6 134.2 L573.6 135.2 L573.6 136.2 L573.7 137.2 L573.7 138.2 L573.7 139.2 L573.7 140.2 L573.7 141.2 L573.7 142.2 L573.7 143.2 L573.7 144.2 L573.7 145.2 L573.7 146.2 L573.7 147.2 L573.7 148.2 L573.7 149.3 L573.7 150.3 L573.7 151.3 L573.7 152.3 L573.8 153.3 L573.8 154.3 L573.8 155.3 L573.8 156.3 L573.8 157.3 L573.8 158.3 L573.8 159.3 L573.8 160.3 L573.8 161.3 L573.8 162.3 L573.8 163.3 L573.8 164.3 L573.8 165.3 L573.9 166.3 L573.9 167.3 L573.9 168.3 L573.9 169.3 L573.9 170.3 L573.9 171.3 L573.9 172.3 L573.9 173.3 L573.9 174.3 L573.9 175.3 L573.9 176.3 L573.9 177.3 L574.0 178.3 L574.0 179.3 L574.0 180.3 L574.0 181.3 L574.0 182.3 L574.0 183.3 L574.0 184.3 L574.0 185.3 L574.0 186.3 L574.0 187.3 L574.1 188.3 L574.1 189.3 L574.1 190.3 L574.1 191.3 L574.1 192.3 L574.1 193.3 L574.1 194.3 L574.1 195.3 L574.1 196.3 L574.2 197.3 L574.2 198.3 L574.2 199.3 L574.2 200.3 L574.2 201.3 L574.2 202.3 L574.2 203.3 L574.2 204.3 L574.2 205.3 L574.2 206.3 L574.3 207.3 L574.3 208.3 L574.3 209.3 L574.3 210.3 L574.3 211.3 L574.3 212.3 L574.3 213.3 L574.3 214.4 L574.3 215.4 L574.4 216.4 L574.4 217.4 L574.4 218.4 L574.4 219.4 L574.4 220.4 L574.4 221.4 L574.4 222.4 L574.4 223.4 L574.4 224.4 L574.5 225.4 L574.5 226.4 L574.5 227.4 L574.5 228.4 L574.5 229.4 L574.5 230.4 L574.5 231.4 L574.5 232.4 L574.5 233.4 L574.5 234.4 L574.6 235.4 L574.6 236.4 L574.6 237.4 L574.6 238.4 L574.6 239.4 L574.6 240.4 L574.6 241.4 L574.6 242.4 L574.6 243.4 L574.6 244.4 L574.7 245.4 L574.7 246.4 L574.7 247.4 L574.7 248.4 L574.7 249.4 L574.7 250.4 L574.7 251.4 L574.7 252.4 L574.7 253.4 L574.7 254.4 L574.7 255.4 L574.8 256.4 L574.8 257.4 L574.8 258.4 L574.8 259.4 L574.8 260.4 L574.8 261.4 L574.8 262.4 L574.8 263.4 L574.8 264.4 L574.8 265.4 L574.8 266.4 L574.8 267.4 L574.9 268.4 L574.9 269.4 L574.9 270.4 L574.9 271.4 L574.9 272.4 L574.9 273.4 L574.9 274.4 L574.9 275.4 L574.9 276.4 L574.9 277.4 L574.9 278.4 L574.9 279.5 L574.9 280.5 L575.0 281.5 L575.0 282.5 L575.0 283.5 L575.0 284.5 L575.0 285.5 L575.0 286.5 L575.0 287.5 L575.0 288.5 L575.0 289.5 L575.0 290.5 L575.0 291.5 L575.0 292.5 L575.0 293.5 L575.0 294.5 L575.0 295.5 L575.0 296.5 L575.1 297.5 L575.1 298.5 L575.1 299.5 L575.1 300.5 L575.1 301.5 L575.1 302.5 L575.1 303.5 L575.1 304.5 L575.1 305.5 L575.1 306.5 L575.1 307.5 L575.1 308.5 L575.1 309.5 L575.1 310.5 L575.1 311.5 L575.1 312.5 L575.2 313.5 L575.2 314.5 L575.2 315.5 L575.2 316.5 L575.2 317.5 L575.2 318.5 L575.2 319.5 L575.2 320.5 L575.2 321.5 L575.2 322.5 L575.2 323.5 L575.2 324.5 L575.2 325.5 L575.2 326.5 L575.2 327.5 L575.2 328.5 L575.2 329.5 L575.2 330.5 L575.3 331.5 L575.3 332.5 L575.3 333.5 L575.3 334.5 L575.3 335.5 L575.3 336.5 L575.3 337.5 L575.3 338.5 L575.3 339.5 L575.3 340.5 L575.3 341.5 L575.3 342.5 L575.3 343.6 L575.3 344.6 L575.3 345.6 L575.3 346.6 L575.3 347.6 L575.4 348.6 L575.4 349.6 L575.4 350.6 L575.4 351.6 L575.4 352.6 L575.4 353.6 L575.4 354.6 L575.4 355.6 L575.4 356.6 L575.4 357.6 L575.4 358.6 L575.4 359.6 L575.4 360.6 L575.4 361.6 L575.4 362.6 L575.4 363.6 L575.4 364.6 L575.5 365.6 L575.5 366.6 L575.5 367.6 L575.5 368.6 L575.5 369.6 L575.5 370.6 L575.5 371.6 L575.5 372.6 L575.5 373.6 L575.5 374.6 L575.5 375.6 L575.5 376.6 L575.5 377.6 L575.5 378.6 L575.5 379.6 L575.6 380.6 L575.6 381.6 L575.6 382.6 L575.6 383.6 L575.6 384.6 L575.6 385.6 L575.6 386.6 L575.6 387.6 L575.6 388.6 L575.6 389.6 L575.6 390.6 L575.6 391.6 L575.6 392.6 L575.6 393.6 L575.7 394.6 L575.7 395.6 L575.7 396.6 L575.7 397.6 L575.7 398.6 L575.7 399.6 L575.7 400.6 L575.7 401.6 L575.7 402.6 L575.7 403.6 L575.7 404.6 L575.7 405.6 L575.8 406.6 L575.8 407.7 L575.8 408.7 L575.8 409.7 L575.8 410.7 L575.8 411.7 L575.8 412.7 L575.8 413.7 L575.8 414.7 L575.8 415.7 L575.9 416.7 L575.9 417.7 L575.9 418.7 L575.9 419.7 L575.9 420.7 L575.9 421.7 L575.9 422.7 L575.9 423.7 L575.9 424.7 L575.9 425.7 L576.0 426.7 L576.0 427.7 L576.0 428.7 L576.0 429.7 L576.0 430.7 L576.0 431.7 L576.0 432.7 L576.0 433.7 L576.0 434.7 L576.1 435.7 L576.1 436.7 L576.1 437.7 L576.1 438.7 L576.1 439.7 L576.1 440.7 L576.1 441.7 L576.2 442.7 L576.2 443.7 L576.2 444.7 L576.2 445.7 L576.2 446.7 L576.2 447.7 L576.2 448.7 L576.3 449.7 L576.3 450.7 L576.3 451.7 L576.3 452.7 L576.3 453.7 L576.3 454.7 L576.3 455.7 L576.4 456.7 L576.4 457.7 L576.4 458.7 L576.4 459.7 L576.4 460.7 L576.4 461.7 L576.5 462.7 L576.5 463.7 L576.5 464.7 L576.5 465.7 L576.5 466.7 L576.6 467.7 L576.6 468.7 L576.6 469.7 L576.6 470.7 L576.6 471.7 L576.6 472.7 L576.7 473.7 L576.7 474.8 L576.7 475.8 L576.7 476.8 L576.8 477.8 L576.8 478.8 L576.8 479.8 L576.8 480.8 L576.8 481.8 L576.9 482.8 L576.9 483.8 L576.9 484.8 L576.9 485.8 L577.0 486.8 L577.0 487.8 L577.0 488.8 L577.0 489.8 L577.0 490.8 L577.1 491.8 L577.1 492.8 L577.1 493.8 L577.1 494.8 L577.2 495.8 L577.2 496.8 L577.2 497.8 L577.2 498.8 L577.3 499.8 L577.3 500.8 L577.3 501.8 L577.3 502.8 L577.4 503.8 L577.4 504.8 L577.4 505.8 L577.4 506.8 L577.4 507.8 L577.5 508.8 L577.5 509.8 L577.5 510.8 L577.5 511.8 L577.6 512.8 L577.6 513.8 L577.6 514.8 L577.6 515.8 L577.6 516.8 L577.7 517.8 L577.7 518.8 L577.7 519.8 L577.7 520.8 L577.7 521.8 L577.8 522.8 L577.8 523.8 L577.8 524.8 L577.8 525.8 L577.8 526.8 L577.8 527.8 L577.9 528.8 L577.9 529.8 L577.9 530.8 L577.9 531.8 L577.9 532.8 L577.9 533.8 L577.9 534.8 L578.0 535.8 L578.0 536.8 L578.0 537.8 L578.0 538.8 L578.0 539.8 L578.0 540.8 L578.0 541.8 L578.1 542.8 L578.1 543.8 L578.1 544.8 L578.1 545.8 L578.1 546.9 L578.1 547.9 L578.1 548.9 L578.2 549.9 L578.2 550.9 L578.2 551.9 L578.2 552.9 L578.2 553.9 L578.2 554.9 L578.2 555.9 L578.3 556.9 L578.3 557.9 L578.3 558.9 L578.3 559.9 L578.3 560.9 L578.3 561.9 L578.3 562.9 L578.4 563.9 L578.4 564.9 L578.4 565.9 L578.4 566.9 L578.4 567.9 L578.4 568.9 L578.5 569.9 L578.5 570.9 L578.5 571.9 L578.5 572.9 L578.5 573.9 L578.5 574.9 L578.6 575.9 L578.6 576.9 L578.6 577.9 L578.6 578.9 L578.6 579.9 L578.6 580.9 L578.7 581.9 L578.7 582.9 L578.7 583.9 L578.7 584.9 L578.7 585.9 L578.8 586.9 L578.8 587.9 L578.8 588.9 L578.8 589.9 L578.8 590.9 L578.8 591.9 L578.9 592.9 L578.9 593.9 L578.9 594.9 L578.9 595.9 L578.9 596.9 L579.0 597.9 L579.0 598.9 L579.0 599.9 L579.0 600.9 L579.0 601.9 L579.1 602.9 L579.1 603.9 L579.1 604.9 L579.1 605.9 L579.1 606.9 L579.2 607.9 L579.2 608.9 L579.2 609.9 L579.2 610.9 L579.2 611.9 L579.3 612.9 L579.3 613.9 L579.3 614.9 L579.3 615.9 L579.3 617.0 L579.4 618.0 L579.4 619.0 L579.4 620.0 L579.4 621.0 L579.4 622.0 L579.5 623.0 L579.5 624.0 L579.5 625.0 L579.5 626.0 L579.5 627.0 L579.6 628.0 L579.6 629.0 L579.6 630.0 L579.6 631.0 L579.6 632.0 L579.7 633.0 L579.7 634.0 L579.7 635.0 L579.7 636.0 L579.7 637.0 L579.8 638.0 L579.8 639.0 L579.8 640.0 L579.8 641.0 L579.8 642.0 L579.8 643.0 L579.9 644.0 L579.9 645.0 L579.9 646.0 L579.9 647.0 L579.9 648.0 L579.9 649.0 L580.0 650.0 L580.0 651.0 L580.0 652.0" stroke="#08ECF0" stroke-width="6.2" stroke-dasharray="4.8 4.4"/>
<path d="M581.2 656.0 L581.6 655.1 L581.9 654.1 L582.2 653.1 L582.5 652.2 L582.7 651.2 L583.0 650.3 L583.2 649.3 L583.4 648.3 L583.6 647.3 L583.8 646.4 L584.0 645.4 L584.2 644.4 L584.3 643.4 L584.5 642.4 L584.6 641.4 L584.7 640.4 L584.8 639.4 L585.0 638.4 L585.1 637.4 L585.2 636.4 L585.3 635.4 L585.4 634.4 L585.5 633.4 L585.6 632.4 L585.6 631.4 L585.7 630.4 L585.8 629.4 L586.0 628.4 L586.1 627.4 L586.2 626.4 L586.3 625.4 L586.4 624.4 L586.5 623.4 L586.7 622.4 L586.8 621.5 L586.9 620.5 L587.1 619.5 L587.2 618.5 L587.4 617.5 L587.5 616.5 L587.7 615.5 L587.8 614.5 L588.0 613.5 L588.1 612.5 L588.3 611.5 L588.4 610.6 L588.6 609.6 L588.7 608.6 L588.9 607.6 L589.0 606.6 L589.1 605.6 L589.3 604.6 L589.4 603.6 L589.6 602.7 L589.7 601.7 L589.8 600.7 L590.0 599.7 L590.1 598.7 L590.2 597.7 L590.4 596.7 L590.5 595.7 L590.6 594.8 L590.8 593.8 L590.9 592.8 L591.0 591.8 L591.1 590.8 L591.3 589.8 L591.4 588.8 L591.5 587.8 L591.6 586.8 L591.8 585.8 L591.9 584.8 L592.0 583.8 L592.2 582.7 L592.3 581.7 L592.4 580.7 L592.6 579.7 L592.7 578.7 L592.8 577.7 L592.9 576.7 L593.1 575.6 L593.2 574.6 L593.3 573.6 L593.5 572.6 L593.6 571.6 L593.8 570.6 L593.9 569.6 L594.0 568.6 L594.2 567.7 L594.3 566.7 L594.4 565.7 L594.6 564.8 L594.7 563.8 L594.9 562.9 L595.0 561.9 L595.2 561.0 L595.3 560.1 L595.4 559.2 L595.6 558.2 L595.8 557.3 L595.9 556.4 L596.1 555.4 L596.3 554.4 L596.5 553.4 L596.7 552.4 L596.9 551.4 L597.2 550.3 L597.5 549.2 L597.7 548.0 L598.1 546.8 L598.4 545.7 L598.8 544.5 L599.2 543.5 L599.7 542.6 L600.2 541.8 L600.8 541.1 L601.5 540.7 L602.2 540.5 L603.0 540.5 L603.9 540.7 L604.8 541.1 L605.8 541.7 L606.7 542.4 L607.7 543.1 L608.6 543.9 L609.5 544.7 L610.3 545.4 L611.2 546.1 L612.0 546.6 L612.8 546.9 L613.5 547.0 L614.2 546.8 L614.9 546.4 L615.6 545.8 L616.2 545.1 L616.8 544.1 L617.4 543.1 L617.9 542.0 L618.4 540.9 L618.9 539.8 L619.4 538.7 L619.8 537.6 L620.2 536.6 L620.6 535.6 L621.0 534.6 L621.4 533.6 L621.7 532.7 L622.0 531.8 L622.3 530.9 L622.7 530.0 L622.9 529.1 L623.2 528.2 L623.5 527.3 L623.8 526.4 L624.1 525.5 L624.4 524.6 L624.6 523.7 L624.9 522.8 L625.2 521.8 L625.5 520.9 L625.9 520.0 L626.2 519.0 L626.6 518.1 L627.1 517.2 L627.5 516.3 L628.1 515.4 L628.7 514.6 L629.4 513.8 L630.2 513.0 L631.0 512.3 L631.9 511.7 L632.8 511.2 L633.8 510.8 L634.7 510.7 L635.5 510.8 L636.3 511.1 L637.0 511.6 L637.7 512.3 L638.4 513.1 L639.1 514.0 L639.8 514.9 L640.5 515.9 L641.3 516.8 L642.1 517.7 L643.0 518.5 L643.8 519.2 L644.7 519.7 L645.5 520.1 L646.3 520.2 L647.1 520.0 L647.9 519.7 L648.6 519.1 L649.3 518.4 L649.9 517.5 L650.5 516.5 L651.1 515.5 L651.6 514.5 L652.2 513.5 L652.7 512.5 L653.1 511.6 L653.6 510.7 L654.1 509.8 L654.5 509.0 L655.0 508.2 L655.5 507.3 L656.0 506.5 L656.4 505.6 L657.0 504.8 L657.5 503.9 L658.1 503.0 L658.7 502.0 L659.3 501.1 L660.0 500.3 L660.7 499.5 L661.4 498.8 L662.2 498.3 L663.1 498.0 L664.0 498.0 L664.9 498.1 L665.9 498.3 L666.9 498.8 L667.8 499.3 L668.8 499.8 L669.6 500.4 L670.5 501.0 L671.3 501.5 L672.1 502.1 L672.9 502.7 L673.7 503.2 L674.6 503.7 L675.6 504.1 L676.6 504.4 L677.6 504.6 L678.5 504.6 L679.3 504.3 L680.1 503.8 L680.9 503.1 L681.6 502.3 L682.2 501.4 L682.8 500.5 L683.4 499.5 L684.0 498.6 L684.6 497.7 L685.2 496.9 L685.8 496.1 L686.4 495.3 L687.0 494.5 L687.6 493.7 L688.2 493.0 L688.8 492.2 L689.4 491.4 L690.1 490.7 L690.7 489.9 L691.3 489.1 L692.0 488.4 L692.7 487.7 L693.5 487.0 L694.3 486.4 L695.1 485.8 L696.1 485.3 L697.0 484.9 L698.0 484.7 L699.0 484.5 L700.0 484.5 L701.0 484.6 L702.0 484.9 L702.9 485.2 L703.8 485.6 L704.8 486.0 L705.7 486.3 L706.7 486.6 L707.7 486.6 L708.7 486.6 L709.8 486.4 L710.7 486.1 L711.6 485.7 L712.5 485.2 L713.2 484.6 L714.0 483.9 L714.6 483.2 L715.2 482.4 L715.8 481.5 L716.4 480.6 L716.9 479.7 L717.4 478.8 L718.0 477.9 L718.5 477.0 L719.0 476.1 L719.5 475.2 L720.0 474.4 L720.5 473.5 L721.0 472.7 L721.6 471.8 L722.1 471.0 L722.6 470.2 L723.2 469.4 L723.8 468.5 L724.4 467.7 L725.0 466.9 L725.6 466.1 L726.2 465.3 L726.9 464.6 L727.6 463.9 L728.3 463.2 L729.0 462.5 L729.8 461.9 L730.6 461.3 L731.4 460.7 L732.3 460.2 L733.1 459.6 L734.0 459.1 L734.9 458.6 L735.8 458.2 L736.6 457.7 L737.5 457.2 L738.4 456.7 L739.3 456.2 L740.1 455.6 L740.9 455.0 L741.7 454.4 L742.4 453.8 L743.1 453.0 L743.7 452.3 L744.3 451.5 L744.9 450.6 L745.4 449.8 L745.8 448.9 L746.3 448.0 L746.7 447.0 L747.2 446.1 L747.6 445.1 L748.0 444.2 L748.4 443.2 L748.8 442.3 L749.2 441.3 L749.6 440.4 L750.0 439.5 L750.4 438.5 L750.9 437.6 L751.3 436.7 L751.7 435.8 L752.1 434.9 L752.6 434.0 L753.1 433.1 L753.5 432.2 L754.0 431.3 L754.5 430.5 L755.0 429.6 L755.5 428.8 L756.1 427.9 L756.6 427.1 L757.2 426.3 L757.8 425.6 L758.5 424.8 L759.1 424.0 L759.8 423.3 L760.5 422.6 L761.2 421.9 L761.9 421.2 L762.6 420.5 L763.4 419.8 L764.1 419.2 L764.9 418.5 L765.6 417.8 L766.4 417.1 L767.1 416.5 L767.9 415.8 L768.6 415.1 L769.3 414.4 L770.0 413.7 L770.7 413.0 L771.4 412.2 L772.0 411.5 L772.7 410.7 L773.3 409.9 L773.9 409.1 L774.4 408.3 L775.0 407.5 L775.5 406.6 L776.0 405.8 L776.5 404.9 L777.0 404.0 L777.5 403.1 L778.0 402.3 L778.4 401.4 L778.9 400.4 L779.3 399.5 L779.8 398.6 L780.2 397.7 L780.7 396.8 L781.1 395.9 L781.5 395.0 L782.0 394.1 L782.4 393.2 L782.8 392.2 L783.3 391.3 L783.7 390.4 L784.2 389.5 L784.6 388.6 L785.1 387.7 L785.5 386.8 L786.0 386.0 L786.4 385.1 L786.9 384.2 L787.3 383.3 L787.8 382.4 L788.2 381.5 L788.7 380.6 L789.2 379.7 L789.6 378.8 L790.1 378.0 L790.6 377.1 L791.0 376.2 L791.5 375.3 L792.0 374.4 L792.4 373.5 L792.9 372.7 L793.4 371.8 L793.9 370.9 L794.3 370.0 L794.8 369.1 L795.3 368.3 L795.8 367.4 L796.3 366.5 L796.7 365.6 L797.2 364.7 L797.7 363.9 L798.2 363.0 L798.7 362.1 L799.2 361.2 L799.7 360.4 L800.2 359.5 L800.7 358.6 L801.2 357.8 L801.7 356.9 L802.2 356.0 L802.8 355.2 L803.3 354.3 L803.8 353.5 L804.4 352.6 L804.9 351.8 L805.5 351.0 L806.0 350.1 L806.6 349.3 L807.1 348.5 L807.7 347.6 L808.3 346.8 L808.9 346.0 L809.5 345.2 L810.1 344.4 L810.7 343.6 L811.3 342.8 L811.9 342.0 L812.5 341.3 L813.2 340.5 L813.8 339.7 L814.5 339.0 L815.1 338.2 L815.8 337.5 L816.5 336.7 L817.1 336.0 L817.8 335.2 L818.5 334.5 L819.1 333.7 L819.8 333.0 L820.5 332.3 L821.2 331.5 L821.9 330.8 L822.5 330.0 L823.2 329.3 L823.9 328.6 L824.6 327.8 L825.3 327.1 L825.9 326.4 L826.6 325.6 L827.3 324.9 L827.9 324.1 L828.6 323.4 L829.3 322.6 L829.9 321.9 L830.6 321.1 L831.2 320.3 L831.9 319.6 L832.5 318.8 L833.2 318.1 L833.8 317.3 L834.5 316.5 L835.1 315.8 L835.8 315.0 L836.4 314.2 L837.1 313.5 L837.7 312.7 L838.4 311.9 L839.0 311.2 L839.6 310.4 L840.3 309.6 L840.9 308.9 L841.6 308.1 L842.2 307.3 L842.9 306.6 L843.6 305.8 L844.2 305.1 L844.9 304.3 L845.5 303.6 L846.2 302.8 L846.8 302.0 L847.5 301.3 L848.2 300.5 L848.8 299.8 L849.5 299.0 L850.2 298.3 L850.8 297.5 L851.5 296.8 L852.1 296.0 L852.8 295.2 L853.5 294.5 L854.1 293.7 L854.8 293.0 L855.4 292.2 L856.0 291.4 L856.7 290.7 L857.3 289.9 L857.9 289.1 L858.6 288.3 L859.2 287.5 L859.8 286.7 L860.4 285.9 L861.0 285.2 L861.6 284.3 L862.2 283.5 L862.8 282.7 L863.4 281.9 L863.9 281.1 L864.5 280.3 L865.0 279.4 L865.6 278.6 L866.1 277.8 L866.7 276.9 L867.2 276.1 L867.7 275.2 L868.2 274.3 L868.8 273.5 L869.3 272.6 L869.8 271.8 L870.3 270.9 L870.8 270.0 L871.3 269.2 L871.8 268.3 L872.3 267.4 L872.8 266.5 L873.3 265.7 L873.7 264.8 L874.2 263.9 L874.7 263.0 L875.2 262.2 L875.7 261.3 L876.2 260.4 L876.7 259.5 L877.2 258.6 L877.7 257.8 L878.1 256.9 L878.6 256.0 L879.1 255.2 L879.6 254.3 L880.1 253.4 L880.6 252.5 L881.1 251.7 L881.6 250.8 L882.1 250.0 L882.7 249.1 L883.2 248.2 L883.7 247.4 L884.2 246.5 L884.7 245.7 L885.2 244.8 L885.8 244.0 L886.3 243.1 L886.9 242.3 L887.4 241.4 L887.9 240.6 L888.5 239.8 L889.1 238.9 L889.6 238.1 L890.2 237.3 L890.7 236.4 L891.3 235.6 L891.9 234.8 L892.5 234.0 L893.0 233.2 L893.6 232.3 L894.2 231.5 L894.8 230.7 L895.4 229.9 L896.0 229.1 L896.5 228.3 L897.1 227.5 L897.7 226.7 L898.3 225.9 L898.9 225.0 L899.5 224.2 L900.1 223.4 L900.7 222.6 L901.3 221.8 L901.9 221.0 L902.6 220.2 L903.2 219.5 L903.8 218.7 L904.4 217.9 L905.0 217.1 L905.6 216.3 L906.2 215.5 L906.9 214.7 L907.5 213.9 L908.1 213.2 L908.8 212.4 L909.4 211.6 L910.0 210.8 L910.7 210.1 L911.3 209.3 L912.0 208.5 L912.6 207.8 L913.3 207.0 L913.9 206.2 L914.6 205.5 L915.2 204.7 L915.9 204.0 L916.5 203.2 L917.2 202.5 L917.9 201.7 L918.5 201.0 L919.2 200.2 L919.8 199.5 L920.5 198.7 L921.2 197.9 L921.8 197.2 L922.5 196.4 L923.1 195.7 L923.8 194.9 L924.4 194.1 L925.0 193.3 L925.7 192.6 L926.3 191.8 L926.9 191.0 L927.5 190.2 L928.1 189.4 L928.8 188.6 L929.4 187.8 L930.0 187.1 L930.6 186.3 L931.2 185.5 L931.9 184.7 L932.5 183.9 L933.1 183.1 L933.7 182.3 L934.4 181.6 L935.0 180.8 L935.6 180.0 L936.3 179.3 L936.9 178.5 L937.6 177.8 L938.3 177.0 L938.9 176.3 L939.6 175.5 L940.3 174.8 L941.0 174.1 L941.7 173.3 L942.4 172.6 L943.1 171.9 L943.8 171.2 L944.5 170.5 L945.2 169.8 L945.9 169.1 L946.6 168.4 L947.3 167.6 L948.0 166.9 L948.7 166.2 L949.4 165.5 L950.2 164.8 L950.9 164.1 L951.6 163.4 L952.3 162.7 L953.0 162.0 L953.7 161.3 L954.4 160.6 L955.1 159.9 L955.8 159.1 L956.5 158.4 L957.2 157.7 L957.9 157.0 L958.6 156.2 L959.3 155.5 L960.0 154.8 L960.6 154.0 L961.3 153.3 L962.0 152.6 L962.7 151.8 L963.3 151.1 L964.0 150.3 L964.7 149.6 L965.4 148.8 L966.0 148.1 L966.7 147.3 L967.3 146.6 L968.0 145.8 L968.7 145.1 L969.3 144.3 L970.0 143.6 L970.6 142.8 L971.3 142.1 L971.9 141.3 L972.6 140.5 L973.3 139.8 L973.9 139.0 L974.6 138.3 L975.2 137.5 L975.9 136.7 L976.5 136.0 L977.2 135.2 L977.8 134.5 L978.5 133.7 L979.1 132.9 L979.8 132.2 L980.4 131.4 L981.1 130.6 L981.7 129.9 L982.3 129.1 L983.0 128.3 L983.6 127.6 L984.3 126.8 L984.9 126.0 L985.6 125.3 L986.2 124.5 L986.9 123.7 L987.5 123.0 L988.2 122.2 L988.8 121.4 L989.4 120.7 L990.1 119.9 L990.7 119.1 L991.4 118.4 L992.0 117.6 L992.6 116.8 L993.3 116.1 L993.9 115.3 L994.6 114.5 L995.2 113.8 L995.9 113.0 L996.5 112.2 L997.1 111.4 L997.8 110.7 L998.4 109.9 L999.1 109.1 L999.7 108.4 L1000.3 107.6 L1001.0 106.8 L1001.6 106.0 L1002.3 105.3 L1002.9 104.5 L1003.5 103.7 L1004.2 103.0 L1004.8 102.2 L1005.5 101.4 L1006.1 100.7 L1006.7 99.9 L1007.4 99.1 L1008.0 98.4 L1008.7 97.6 L1009.3 96.8 L1010.0 96.0 L1010.6 95.3 L1011.2 94.5 L1011.9 93.7 L1012.5 93.0 L1013.2 92.2 L1013.8 91.4 L1014.5 90.7 L1015.1 89.9 L1015.8 89.1 L1016.4 88.4" stroke="#08ECF0" stroke-width="6.2" stroke-dasharray="4.8 4.4"/>
<path d="M121.4 47.8 L122.1 48.5 L122.9 49.1 L123.6 49.8 L124.3 50.5 L125.0 51.3 L125.7 52.0 L126.4 52.7 L127.1 53.4 L127.8 54.2 L128.4 54.9 L129.1 55.7 L129.8 56.4 L130.4 57.1 L131.1 57.9 L131.8 58.6 L132.5 59.3 L133.2 60.1 L133.9 60.8 L134.6 61.5 L135.3 62.2 L136.0 62.9 L136.7 63.6 L137.4 64.3 L138.2 65.0 L138.9 65.7 L139.6 66.4 L140.3 67.1 L141.0 67.8 L141.7 68.5 L142.4 69.2 L143.1 70.0 L143.8 70.7 L144.5 71.4 L145.1 72.2 L145.8 72.9 L146.4 73.7 L147.0 74.5 L147.6 75.3 L148.3 76.1 L148.9 76.9 L149.4 77.7 L150.0 78.5 L150.6 79.3 L151.2 80.1 L151.8 81.0 L152.3 81.8 L152.9 82.6 L153.4 83.5 L154.0 84.3 L154.5 85.1 L155.1 86.0 L155.6 86.8 L156.2 87.6 L156.7 88.5 L157.3 89.3 L157.8 90.1 L158.4 91.0 L158.9 91.8 L159.5 92.6 L160.1 93.5 L160.6 94.3 L161.2 95.1 L161.8 95.9 L162.3 96.8 L162.9 97.6 L163.5 98.4 L164.1 99.2 L164.7 100.0 L165.3 100.8 L165.9 101.6 L166.5 102.4 L167.1 103.2 L167.8 103.9 L168.4 104.7 L169.0 105.5 L169.6 106.3 L170.2 107.1 L170.8 107.9 L171.5 108.7 L172.1 109.5 L172.7 110.2 L173.3 111.0 L173.9 111.8 L174.5 112.6 L175.1 113.4 L175.7 114.3 L176.3 115.1 L176.9 115.9 L177.4 116.7 L178.0 117.5 L178.5 118.4 L179.1 119.2 L179.6 120.0 L180.2 120.9 L180.7 121.7 L181.3 122.6 L181.8 123.4 L182.3 124.3 L182.8 125.1 L183.4 126.0 L183.9 126.8 L184.4 127.7 L184.9 128.5 L185.4 129.4 L185.9 130.3 L186.5 131.1 L187.0 132.0 L187.5 132.8 L188.0 133.7 L188.5 134.5 L189.1 135.4 L189.6 136.2 L190.1 137.1 L190.6 137.9 L191.2 138.8 L191.7 139.6 L192.3 140.5 L192.8 141.3 L193.4 142.1 L194.0 143.0 L194.5 143.8 L195.1 144.6 L195.7 145.4 L196.3 146.2 L196.9 147.0 L197.5 147.8 L198.1 148.6 L198.7 149.4 L199.3 150.2 L199.9 151.0 L200.6 151.8 L201.2 152.5 L201.8 153.3 L202.4 154.1 L203.1 154.9 L203.7 155.6 L204.3 156.4 L205.0 157.2 L205.6 158.0 L206.2 158.8 L206.8 159.6 L207.4 160.3 L208.0 161.1 L208.6 161.9 L209.2 162.7 L209.8 163.6 L210.4 164.4 L211.0 165.2 L211.6 166.0 L212.2 166.8 L212.7 167.6 L213.3 168.4 L213.9 169.3 L214.5 170.1 L215.0 170.9 L215.6 171.7 L216.2 172.6 L216.7 173.4 L217.3 174.2 L217.9 175.0 L218.4 175.8 L219.0 176.7 L219.6 177.5 L220.2 178.3 L220.8 179.1 L221.4 179.9 L222.0 180.7 L222.6 181.5 L223.2 182.3 L223.8 183.1 L224.5 183.8 L225.1 184.6 L225.8 185.4 L226.4 186.1 L227.1 186.9 L227.8 187.6 L228.5 188.3 L229.2 189.0 L229.9 189.8 L230.6 190.5 L231.3 191.2 L232.0 191.9 L232.7 192.6 L233.4 193.3 L234.1 194.0 L234.8 194.7 L235.5 195.4 L236.2 196.1 L236.9 196.9 L237.6 197.6 L238.3 198.3 L238.9 199.1 L239.6 199.8 L240.3 200.6 L240.9 201.3 L241.5 202.1 L242.2 202.9 L242.8 203.7 L243.4 204.5 L244.0 205.2 L244.6 206.0 L245.2 206.8 L245.8 207.7 L246.4 208.5 L247.0 209.3 L247.6 210.1 L248.2 210.9 L248.8 211.7 L249.4 212.5 L250.0 213.3 L250.5 214.1 L251.1 214.9 L251.7 215.7 L252.3 216.5 L253.0 217.3 L253.6 218.1 L254.2 218.9 L254.8 219.7 L255.4 220.5 L256.1 221.2 L256.7 222.0 L257.4 222.8 L258.0 223.5 L258.7 224.3 L259.3 225.0 L260.0 225.8 L260.7 226.5 L261.3 227.3 L262.0 228.0 L262.7 228.7 L263.4 229.5 L264.0 230.2 L264.7 231.0 L265.3 231.7 L266.0 232.5 L266.6 233.3 L267.3 234.0 L267.9 234.8 L268.5 235.6 L269.1 236.4 L269.7 237.2 L270.3 238.0 L270.9 238.8 L271.4 239.7 L272.0 240.5 L272.6 241.3 L273.1 242.2 L273.6 243.0 L274.2 243.9 L274.7 244.7 L275.2 245.6 L275.8 246.4 L276.3 247.3 L276.8 248.1 L277.3 249.0 L277.8 249.8 L278.3 250.7 L278.8 251.6 L279.3 252.4 L279.8 253.3 L280.4 254.1 L280.9 255.0 L281.4 255.9 L281.9 256.7 L282.5 257.6 L283.0 258.4 L283.5 259.2 L284.1 260.1 L284.6 260.9 L285.2 261.7 L285.8 262.6 L286.4 263.4 L286.9 264.2 L287.5 265.0 L288.1 265.8 L288.7 266.6 L289.4 267.4 L290.0 268.2 L290.6 268.9 L291.2 269.7 L291.9 270.5 L292.5 271.3 L293.1 272.0 L293.8 272.8 L294.4 273.6 L295.0 274.4 L295.7 275.2 L296.3 275.9 L296.9 276.7 L297.5 277.5 L298.1 278.3 L298.7 279.1 L299.3 279.9 L299.9 280.8 L300.5 281.6 L301.0 282.4 L301.6 283.2 L302.2 284.0 L302.7 284.9 L303.3 285.7 L303.8 286.5 L304.4 287.4 L304.9 288.2 L305.5 289.1 L306.0 289.9 L306.5 290.7 L307.1 291.6 L307.6 292.4 L308.1 293.3 L308.6 294.1 L309.2 295.0 L309.7 295.8 L310.2 296.7 L310.8 297.5 L311.3 298.4 L311.8 299.2 L312.3 300.1 L312.9 300.9 L313.4 301.8 L313.9 302.6 L314.5 303.5 L315.0 304.3 L315.5 305.2 L316.1 306.0 L316.6 306.9 L317.1 307.7 L317.7 308.5 L318.2 309.4 L318.8 310.2 L319.3 311.1 L319.9 311.9 L320.4 312.7 L321.0 313.6 L321.5 314.4 L322.1 315.2 L322.7 316.1 L323.2 316.9 L323.8 317.7 L324.3 318.5 L324.9 319.4 L325.5 320.2 L326.0 321.0 L326.6 321.9 L327.2 322.7 L327.7 323.5 L328.3 324.3 L328.9 325.1 L329.4 326.0 L330.0 326.8 L330.6 327.6 L331.1 328.4 L331.7 329.3 L332.3 330.1 L332.8 330.9 L333.4 331.7 L334.0 332.6 L334.6 333.4 L335.1 334.2 L335.7 335.0 L336.3 335.8 L336.9 336.6 L337.5 337.4 L338.1 338.2 L338.8 339.0 L339.4 339.8 L340.0 340.5 L340.7 341.3 L341.3 342.1 L341.9 342.8 L342.6 343.6 L343.2 344.4 L343.9 345.1 L344.5 345.9 L345.2 346.7 L345.8 347.4 L346.5 348.2 L347.1 349.0 L347.8 349.7 L348.4 350.5 L349.0 351.3 L349.7 352.0 L350.3 352.8 L350.9 353.6 L351.5 354.4 L352.1 355.2 L352.7 356.0 L353.3 356.8 L353.9 357.6 L354.4 358.5 L355.0 359.3 L355.6 360.1 L356.1 361.0 L356.6 361.8 L357.2 362.7 L357.7 363.5 L358.2 364.4 L358.7 365.3 L359.2 366.1 L359.6 367.0 L360.1 367.9 L360.5 368.8 L361.0 369.7 L361.4 370.6 L361.8 371.5 L362.3 372.4 L362.7 373.3 L363.1 374.3 L363.5 375.2 L363.9 376.1 L364.3 377.0 L364.7 377.9 L365.1 378.9 L365.5 379.8 L365.9 380.7 L366.3 381.6 L366.7 382.5 L367.1 383.4 L367.5 384.3 L367.9 385.3 L368.3 386.2 L368.8 387.1 L369.2 388.0 L369.7 388.8 L370.2 389.7 L370.6 390.6 L371.1 391.5 L371.6 392.3 L372.1 393.2 L372.7 394.0 L373.2 394.9 L373.7 395.7 L374.3 396.6 L374.9 397.4 L375.4 398.2 L376.0 399.0 L376.6 399.9 L377.2 400.7 L377.8 401.4 L378.4 402.2 L379.1 403.0 L379.7 403.7 L380.4 404.5 L381.1 405.2 L381.8 405.9 L382.6 406.6 L383.3 407.3 L384.0 408.0 L384.8 408.7 L385.5 409.3 L386.3 410.0 L387.0 410.7 L387.7 411.4 L388.4 412.1 L389.1 412.8 L389.7 413.6 L390.4 414.3 L391.0 415.1 L391.6 415.9 L392.1 416.8 L392.7 417.6 L393.2 418.4 L393.7 419.3 L394.2 420.2 L394.7 421.1 L395.2 421.9 L395.7 422.8 L396.1 423.7 L396.6 424.6 L397.1 425.5 L397.6 426.3 L398.1 427.2 L398.6 428.1 L399.2 428.9 L399.7 429.7 L400.3 430.6 L400.9 431.4 L401.5 432.2 L402.1 432.9 L402.8 433.7 L403.4 434.5 L404.1 435.2 L404.8 435.9 L405.6 436.6 L406.3 437.3 L407.1 438.0 L407.9 438.6 L408.8 439.2 L409.7 439.7 L410.6 440.2 L411.5 440.5 L412.4 440.8 L413.4 441.0 L414.4 441.1 L415.4 441.1 L416.4 441.1 L417.4 441.1 L418.4 441.1 L419.4 441.2 L420.4 441.4 L421.3 441.7 L422.2 442.2 L423.0 442.7 L423.9 443.3 L424.6 444.0 L425.4 444.8 L426.1 445.6 L426.7 446.4 L427.3 447.2 L427.9 448.0 L428.4 448.9 L429.0 449.7 L429.5 450.6 L430.1 451.4 L430.6 452.2 L431.2 453.0 L431.8 453.8 L432.4 454.6 L433.1 455.3 L433.8 456.0 L434.6 456.7 L435.5 457.3 L436.3 457.9 L437.3 458.4 L438.2 458.8 L439.2 459.0 L440.1 459.2 L441.1 459.2 L442.0 459.1 L442.9 458.8 L443.9 458.5 L444.8 458.0 L445.7 457.5 L446.6 456.9 L447.5 456.2 L448.4 455.5 L449.2 454.8 L450.1 454.1 L450.9 453.4 L451.8 452.8 L452.6 452.3 L453.5 451.9 L454.3 451.6 L455.2 451.5 L456.1 451.6 L457.0 451.9 L457.9 452.3 L458.7 452.9 L459.6 453.5 L460.4 454.3 L461.1 455.1 L461.8 456.0 L462.4 456.9 L463.0 457.8 L463.6 458.7 L464.1 459.6 L464.6 460.5 L465.1 461.3 L465.7 462.1 L466.3 462.9 L467.0 463.5 L467.7 464.1 L468.6 464.7 L469.5 465.1 L470.5 465.3 L471.5 465.4 L472.5 465.3 L473.4 465.0 L474.3 464.6 L475.2 464.0 L476.0 463.3 L476.7 462.6 L477.4 461.8 L478.0 460.9 L478.6 460.1 L479.1 459.3 L479.6 458.4 L480.0 457.5 L480.5 456.7 L480.9 455.8 L481.4 455.0 L481.8 454.1 L482.3 453.2 L482.8 452.3 L483.4 451.5 L484.0 450.6 L484.8 449.7 L485.5 448.9 L486.3 448.1 L487.2 447.5 L488.0 447.1 L488.9 447.0 L489.7 447.1 L490.5 447.5 L491.3 448.1 L492.1 448.9 L492.8 449.7 L493.5 450.7 L494.1 451.7 L494.6 452.6 L495.1 453.5 L495.6 454.4 L496.1 455.3 L496.5 456.2 L497.0 457.0 L497.4 457.8 L498.0 458.7 L498.6 459.5 L499.3 460.3 L500.0 461.1 L500.8 461.8 L501.7 462.3 L502.5 462.6 L503.2 462.6 L504.0 462.3 L504.6 461.8 L505.3 461.1 L505.9 460.2 L506.5 459.2 L507.0 458.1 L507.5 456.9 L508.0 455.8 L508.4 454.6 L508.8 453.4 L509.2 452.4 L509.5 451.4 L509.9 450.4 L510.2 449.4 L510.5 448.5 L510.8 447.6 L511.1 446.8 L511.4 445.9 L511.7 445.1 L512.0 444.2 L512.3 443.3 L512.6 442.4 L513.0 441.5 L513.3 440.5 L513.6 439.5 L514.0 438.5 L514.4 437.4 L514.8 436.2 L515.3 435.0 L515.7 433.8 L516.2 432.7 L516.7 431.5 L517.2 430.4 L517.7 429.4 L518.3 428.5 L518.8 427.7 L519.3 427.0 L519.8 426.5 L520.4 426.1 L520.9 426.0 L521.4 426.1 L521.9 426.4 L522.4 426.8 L522.9 427.5 L523.4 428.3 L523.8 429.2 L524.3 430.3 L524.7 431.4 L525.2 432.6 L525.6 433.9 L526.1 435.3 L526.5 436.6 L526.9 438.0 L527.3 439.3 L527.7 440.7 L528.1 441.9 L528.5 443.1 L528.9 444.2 L529.3 445.2 L529.8 446.0 L530.2 446.7 L530.6 447.2 L531.0 447.4 L531.4 447.5 L531.9 447.3 L532.3 446.9 L532.8 446.3 L533.2 445.6 L533.7 444.7 L534.1 443.6 L534.5 442.5 L535.0 441.3 L535.4 440.1 L535.8 438.8 L536.1 437.6 L536.5 436.4 L536.8 435.2 L537.1 434.1 L537.4 432.9 L537.6 431.8 L537.9 430.8 L538.1 429.7 L538.3 428.7 L538.5 427.6 L538.7 426.6 L538.9 425.7 L539.0 424.7 L539.1 423.7 L539.3 422.8 L539.4 421.9 L539.5 420.9 L539.6 420.0 L539.7 419.1 L539.8 418.2 L539.9 417.3 L539.9 416.4 L540.0 415.5 L540.1 414.6 L540.1 413.7 L540.2 412.8 L540.3 411.8 L540.3 410.9 L540.4 410.0 L540.5 409.0 L540.5 408.1 L540.6 407.1 L540.7 406.2 L540.8 405.2 L540.8 404.2 L540.9 403.2 L541.0 402.2 L541.1 401.2 L541.2 400.2 L541.3 399.2 L541.4 398.2 L541.5 397.2 L541.6 396.2 L541.7 395.2 L541.8 394.2 L541.9 393.2 L542.0 392.2 L542.2 391.1 L542.3 390.1 L542.4 389.1 L542.6 388.1 L542.7 387.1 L542.8 386.1 L543.0 385.1 L543.1 384.1 L543.3 383.1 L543.5 382.1 L543.6 381.2 L543.8 380.2 L543.9 379.2 L544.1 378.2 L544.3 377.3 L544.4 376.3 L544.6 375.3 L544.7 374.4 L544.9 373.4 L545.0 372.4 L545.2 371.4 L545.3 370.4 L545.4 369.5 L545.5 368.5 L545.6 367.5 L545.7 366.5 L545.8 365.5 L545.9 364.4 L545.9 363.4 L546.0 362.4 L546.0 361.3 L546.0 360.3 L546.0 359.2 L546.0 358.2 L546.0 357.1 L546.0 356.1 L546.1 355.0 L546.3 354.0 L546.5 353.0 L546.9 352.1 L547.4 351.2 L548.0 350.4 L548.8 349.7 L549.6 349.1 L550.5 348.7 L551.2 348.7 L551.7 349.1 L552.0 349.8 L552.3 350.7 L552.4 351.8 L552.5 353.1 L552.5 354.5 L552.5 355.9 L552.5 357.3 L552.5 358.6 L552.5 359.9 L552.6 361.1 L552.6 362.2 L552.7 363.3 L552.8 364.3 L552.9 365.2 L553.1 366.1 L553.2 367.0 L553.3 367.9 L553.5 368.8 L553.6 369.6 L553.7 370.5 L553.9 371.4 L554.0 372.2 L554.1 373.1 L554.2 374.1 L554.3 375.0 L554.4 375.9 L554.5 376.9 L554.5 377.8 L554.6 378.8 L554.7 379.8 L554.7 380.7 L554.8 381.7 L554.9 382.7 L554.9 383.7 L555.0 384.8 L555.0 385.8 L555.0 386.8 L555.1 387.8 L555.1 388.9 L555.1 389.9 L555.2 391.0 L555.2 392.0 L555.2 393.1 L555.3 394.1 L555.3 395.2 L555.3 396.2 L555.3 397.3 L555.4 398.3 L555.4 399.4 L555.4 400.4 L555.4 401.5 L555.5 402.5 L555.5 403.5 L555.5 404.6 L555.6 405.6 L555.6 406.6 L555.6 407.7 L555.7 408.7 L555.7 409.7 L555.7 410.8 L555.8 411.8 L555.8 412.8 L555.8 413.8 L555.9 414.9 L555.9 415.9 L556.0 416.9 L556.0 417.9 L556.0 418.9 L556.1 419.9 L556.1 420.9 L556.2 421.9 L556.2 423.0 L556.2 424.0 L556.3 425.0 L556.3 426.0 L556.4 427.0 L556.4 428.0 L556.5 429.0 L556.5 430.0 L556.6 431.0 L556.6 432.0 L556.7 433.0 L556.7 434.0 L556.8 434.9 L556.8 435.9 L556.9 436.9 L556.9 437.9 L557.0 438.9 L557.0 439.9 L557.1 440.9 L557.1 441.9 L557.2 442.9 L557.2 443.8 L557.3 444.8 L557.3 445.8 L557.4 446.8 L557.4 447.8 L557.5 448.8 L557.5 449.8 L557.6 450.7 L557.7 451.7 L557.7 452.7 L557.8 453.7 L557.8 454.7 L557.9 455.7 L557.9 456.6 L558.0 457.6 L558.0 458.6 L558.1 459.6 L558.1 460.6 L558.2 461.5 L558.2 462.5 L558.3 463.5 L558.4 464.5 L558.4 465.5 L558.5 466.5 L558.5 467.5 L558.6 468.4 L558.6 469.4 L558.7 470.4 L558.7 471.4 L558.8 472.4 L558.8 473.4 L558.9 474.4 L558.9 475.3 L559.0 476.3 L559.0 477.3 L559.1 478.3 L559.2 479.3 L559.2 480.3 L559.3 481.3 L559.3 482.3 L559.4 483.3 L559.4 484.3 L559.5 485.3 L559.5 486.3 L559.6 487.3 L559.6 488.3 L559.7 489.3 L559.7 490.3 L559.8 491.3 L559.8 492.3 L559.9 493.3 L559.9 494.3 L560.0 495.3 L560.0 496.3 L560.1 497.3 L560.1 498.3 L560.2 499.3 L560.2 500.3 L560.3 501.3 L560.3 502.3 L560.3 503.3 L560.4 504.3 L560.4 505.3 L560.5 506.3 L560.5 507.3 L560.6 508.3 L560.6 509.3 L560.7 510.3 L560.7 511.3 L560.8 512.3 L560.8 513.3 L560.9 514.3 L560.9 515.3 L561.0 516.3 L561.0 517.3 L561.1 518.3 L561.1 519.3 L561.2 520.3 L561.2 521.3 L561.3 522.3 L561.3 523.3 L561.4 524.3 L561.4 525.4 L561.5 526.4 L561.5 527.4 L561.6 528.4 L561.6 529.4 L561.7 530.4 L561.7 531.4 L561.8 532.4 L561.8 533.4 L561.9 534.4 L561.9 535.4 L562.0 536.4 L562.0 537.4 L562.1 538.4 L562.1 539.4 L562.2 540.4 L562.3 541.4 L562.3 542.4 L562.4 543.4 L562.4 544.4 L562.5 545.4 L562.5 546.4 L562.6 547.4 L562.6 548.4 L562.7 549.4 L562.7 550.4 L562.8 551.4 L562.9 552.4 L562.9 553.4 L563.0 554.3 L563.0 555.3 L563.1 556.3 L563.1 557.3 L563.2 558.3 L563.3 559.3 L563.3 560.3 L563.4 561.3 L563.4 562.3 L563.5 563.3 L563.6 564.2 L563.6 565.2 L563.7 566.2 L563.7 567.2 L563.8 568.2 L563.9 569.2 L563.9 570.2 L564.0 571.1 L564.1 572.1 L564.1 573.1 L564.2 574.1 L564.3 575.1 L564.3 576.1 L564.4 577.1 L564.5 578.0 L564.5 579.0 L564.6 580.0 L564.7 581.0 L564.7 582.0 L564.8 583.0 L564.9 584.0 L564.9 585.0 L565.0 585.9 L565.1 586.9 L565.1 587.9 L565.2 588.9 L565.3 589.9 L565.4 590.9 L565.4 591.9 L565.5 592.9 L565.6 593.9 L565.6 594.9 L565.7 595.9 L565.8 596.9 L565.9 597.9 L566.0 598.9 L566.0 599.9 L566.1 600.9 L566.2 601.9 L566.3 602.9 L566.3 603.9 L566.4 604.9 L566.5 605.9 L566.6 607.0 L566.7 608.0 L566.7 609.0 L566.8 610.0 L566.9 611.0 L567.0 612.1 L567.1 613.1 L567.2 614.1 L567.2 615.2 L567.3 616.2 L567.4 617.2 L567.5 618.3 L567.6 619.3 L567.7 620.4 L567.8 621.4 L567.8 622.4 L567.9 623.5 L568.0 624.5 L568.1 625.6 L568.2 626.6 L568.3 627.7 L568.4 628.7 L568.5 629.8 L568.6 630.8 L568.7 631.8 L568.8 632.9 L568.8 633.9 L568.9 635.0 L569.0 636.0 L569.1 637.0 L569.2 638.1 L569.3 639.1 L569.4 640.1 L569.5 641.1 L569.6 642.2 L569.7 643.2 L569.8 644.2 L569.9 645.2 L570.0 646.2 L570.1 647.2 L570.2 648.2 L570.3 649.2 L570.4 650.1 L570.5 651.1 L570.6 652.1 L570.7 653.1 L570.8 654.0 L570.9 655.0 L571.0 655.9 L571.1 656.8 L571.2 657.8 L571.3 658.7 L571.4 659.6 L571.5 660.5 L571.6 661.4 L571.8 662.3 L571.9 663.2 L572.0 664.0 L572.1 664.9 L572.2 665.7 L572.3 666.6 L572.4 667.5 L572.5 668.3 L572.7 669.2 L572.8 670.1 L573.0 671.0 L573.2 672.0 L573.4 673.0 L573.6 674.0 L573.8 675.1 L574.1 676.2 L574.4 677.4 L574.7 678.7 L575.1 680.0 L575.4 681.3 L575.8 682.5 L576.3 683.4 L576.7 684.1 L577.2 684.4 L577.7 684.2 L578.2 683.5 L578.6 682.6 L579.1 681.4 L579.5 680.2 L579.9 679.0 L580.3 677.9 L580.6 676.8 L580.8 675.8 L581.1 674.8 L581.3 673.8 L581.5 672.9 L581.7 672.0 L581.8 671.1 L582.0 670.2 L582.1 669.3 L582.2 668.4 L582.4 667.5 L582.5 666.6 L582.6 665.7 L582.8 664.7 L582.9 663.8 L583.0 662.8 L583.2 661.9 L583.3 660.9 L583.5 659.9 L583.6 658.9 L583.7 657.9 L583.9 656.9 L584.0 655.9 L584.1 654.9 L584.3 653.9 L584.4 652.9 L584.6 651.8 L584.7 650.8 L584.8 649.8 L584.9 648.8 L585.1 647.7 L585.2 646.7 L585.3 645.7 L585.4 644.7 L585.6 643.6 L585.7 642.6 L585.8 641.6 L585.9 640.6 L586.0 639.6 L586.1 638.6 L586.2 637.6 L586.3 636.6 L586.4 635.6 L586.6 634.6 L586.7 633.6 L586.8 632.6 L586.9 631.6 L587.0 630.6 L587.1 629.6 L587.2 628.6 L587.3 627.6 L587.4 626.7 L587.5 625.7 L587.6 624.7 L587.7 623.7 L587.8 622.7 L587.9 621.7 L588.0 620.7 L588.1 619.8 L588.2 618.8 L588.3 617.8 L588.4 616.8 L588.5 615.8 L588.6 614.8 L588.7 613.8 L588.8 612.8 L588.9 611.8 L589.0 610.9 L589.1 609.9 L589.2 608.9 L589.4 607.9 L589.5 606.9 L589.6 605.9 L589.7 604.8 L589.8 603.8 L590.0 602.8 L590.1 601.8 L590.2 600.8 L590.4 599.8 L590.5 598.8 L590.6 597.8 L590.8 596.8 L590.9 595.7 L591.0 594.7 L591.2 593.7 L591.3 592.7 L591.4 591.7 L591.6 590.7 L591.7 589.6 L591.8 588.6 L592.0 587.6 L592.1 586.6 L592.2 585.6 L592.4 584.6 L592.5 583.6 L592.6 582.5 L592.8 581.5 L592.9 580.5 L593.0 579.5 L593.1 578.5 L593.3 577.5 L593.4 576.5 L593.5 575.5 L593.6 574.6 L593.7 573.6 L593.9 572.6 L594.0 571.6 L594.1 570.6 L594.2 569.6 L594.3 568.7 L594.4 567.7 L594.5 566.7 L594.5 565.8 L594.6 564.8 L594.7 563.9 L594.8 562.9 L594.9 562.0 L594.9 561.1 L595.0 560.1 L595.0 559.2 L595.1 558.3 L595.2 557.4 L595.2 556.5 L595.3 555.5 L595.4 554.6 L595.5 553.6 L595.6 552.7 L595.8 551.7 L595.9 550.7 L596.1 549.7 L596.4 548.7 L596.7 547.6 L597.0 546.5 L597.4 545.4 L597.8 544.2 L598.2 543.1 L598.7 541.9 L599.3 540.9 L599.9 539.9 L600.5 539.1 L601.1 538.5 L601.8 538.1 L602.4 538.0 L603.1 538.2 L603.8 538.6 L604.5 539.2 L605.2 540.0 L605.9 540.9 L606.7 541.8 L607.5 542.8 L608.3 543.7 L609.1 544.6 L610.0 545.4 L610.8 546.1 L611.7 546.6 L612.5 546.9 L613.3 547.0 L614.1 546.9 L614.8 546.5 L615.5 545.9 L616.1 545.2 L616.7 544.3 L617.3 543.4 L617.8 542.3 L618.3 541.2 L618.8 540.1 L619.2 539.0 L619.7 538.0 L620.1 536.9 L620.5 535.9 L620.9 534.9 L621.2 534.0 L621.6 533.0 L621.9 532.1 L622.2 531.2 L622.5 530.3 L622.8 529.4 L623.1 528.5 L623.4 527.6 L623.7 526.7 L624.0 525.8 L624.3 524.9 L624.6 524.0 L624.8 523.1 L625.1 522.1 L625.4 521.2 L625.8 520.2 L626.1 519.3 L626.5 518.4 L626.9 517.5 L627.4 516.6 L627.9 515.7 L628.5 514.9 L629.2 514.1 L629.9 513.3 L630.7 512.5 L631.6 511.9 L632.5 511.3 L633.5 510.9 L634.4 510.7 L635.2 510.7 L636.0 511.0 L636.8 511.4 L637.5 512.1 L638.2 512.8 L638.9 513.7 L639.6 514.6 L640.3 515.5 L641.0 516.5 L641.8 517.4 L642.7 518.2 L643.5 519.0 L644.4 519.5 L645.2 520.0 L646.1 520.2 L646.9 520.1 L647.6 519.8 L648.3 519.3 L649.0 518.6 L649.7 517.8 L650.3 516.9 L650.9 515.9 L651.4 514.8 L652.0 513.8 L652.5 512.8 L653.0 511.9 L653.5 511.0 L653.9 510.1 L654.4 509.3 L654.8 508.5 L655.3 507.6 L655.8 506.8 L656.3 506.0 L656.8 505.1 L657.3 504.2 L657.8 503.3 L658.4 502.4 L659.0 501.5 L659.7 500.6 L660.4 499.8 L661.1 499.1 L661.9 498.5 L662.8 498.1 L663.6 498.0 L664.6 498.0 L665.5 498.2 L666.5 498.6 L667.5 499.1 L668.4 499.6 L669.3 500.2 L670.1 500.7 L671.0 501.3 L671.8 501.9 L672.6 502.4 L673.4 503.0 L674.3 503.5 L675.2 503.9 L676.2 504.3 L677.2 504.6 L678.1 504.6 L679.0 504.4 L679.8 504.0 L680.6 503.4 L681.3 502.6 L682.0 501.8 L682.6 500.9 L683.2 499.9 L683.8 499.0 L684.4 498.1 L685.0 497.2 L685.6 496.4 L686.2 495.6 L686.8 494.8 L687.4 494.0 L688.0 493.3 L688.6 492.5 L689.2 491.8 L689.8 491.0 L690.4 490.2 L691.1 489.4 L691.7 488.7 L692.4 488.0 L693.2 487.3 L693.9 486.6 L694.8 486.0 L695.7 485.5 L696.6 485.1 L697.6 484.8 L698.6 484.6 L699.6 484.5 L700.6 484.5 L701.5 484.7 L702.5 485.1 L703.4 485.4 L704.3 485.8 L705.3 486.2 L706.3 486.5 L707.3 486.6 L708.3 486.6 L709.3 486.5 L710.3 486.3 L711.2 485.9 L712.1 485.5 L712.9 484.9 L713.6 484.3 L714.3 483.5 L715.0 482.7 L715.6 481.9 L716.1 481.0 L716.7 480.1 L717.2 479.2 L717.7 478.3 L718.2 477.4 L718.7 476.5 L719.3 475.6 L719.8 474.8 L720.3 473.9 L720.8 473.1 L721.3 472.2 L721.8 471.4 L722.4 470.6 L722.9 469.7 L723.5 468.9 L724.1 468.1 L724.7 467.3 L725.3 466.5 L725.9 465.7 L726.6 464.9 L727.2 464.2 L727.9 463.5 L728.7 462.8 L729.4 462.2 L730.2 461.5 L731.0 461.0 L731.9 460.4 L732.7 459.9 L733.6 459.4 L734.4 458.9 L735.3 458.4 L736.2 457.9 L737.1 457.4 L738.0 456.9 L738.9 456.4 L739.7 455.9 L740.6 455.3 L741.3 454.7 L742.1 454.1 L742.8 453.4 L743.4 452.7 L744.0 451.9 L744.6 451.1 L745.1 450.2 L745.6 449.3 L746.1 448.4 L746.5 447.5 L747.0 446.6 L747.4 445.6 L747.8 444.7 L748.2 443.7 L748.6 442.8 L749.0 441.8 L749.4 440.9 L749.8 439.9 L750.2 439.0 L750.6 438.1 L751.1 437.2 L751.5 436.2 L751.9 435.3 L752.4 434.4 L752.8 433.5 L753.3 432.6 L753.8 431.8 L754.2 430.9 L754.7 430.0 L755.3 429.2 L755.8 428.4 L756.3 427.6 L756.9 426.8 L757.5 426.0 L758.1 425.2 L758.8 424.4 L759.4 423.7 L760.1 423.0 L760.8 422.3 L761.5 421.6 L762.2 420.9 L763.0 420.2 L763.7 419.5 L764.5 418.9 L765.2 418.2 L766.0 417.5 L766.7 416.8 L767.5 416.2 L768.2 415.5 L768.9 414.8 L769.6 414.1 L770.3 413.4 L771.0 412.6 L771.7 411.9 L772.3 411.1 L772.9 410.4 L773.5 409.6 L774.1 408.8 L774.7 407.9 L775.2 407.1 L775.7 406.2 L776.3 405.4 L776.8 404.5 L777.2 403.6 L777.7 402.8 L778.2 401.9 L778.6 401.0 L779.1 400.1 L779.5 399.1 L780.0 398.2 L780.4 397.3 L780.8 396.4 L781.3 395.5 L781.7 394.6 L782.2 393.7 L782.6 392.8 L783.0 391.9 L783.5 391.0 L783.9 390.1 L784.4 389.2 L784.8 388.3 L785.3 387.4 L785.7 386.5 L786.2 385.6 L786.6 384.7 L787.1 383.8 L787.5 382.9 L788.0 382.0 L788.4 381.1 L788.9 380.2 L789.4 379.4 L789.8 378.5 L790.3 377.6 L790.8 376.7 L791.2 375.8 L791.7 375.0 L792.2 374.1 L792.6 373.2 L793.1 372.3 L793.6 371.4 L794.0 370.6 L794.5 369.7 L795.0 368.8 L795.5 367.9 L796.0 367.0 L796.4 366.2 L796.9 365.3 L797.4 364.4 L797.9 363.5 L798.4 362.6 L798.9 361.8 L799.4 360.9 L799.9 360.0 L800.4 359.2 L800.9 358.3 L801.4 357.4 L801.9 356.6 L802.4 355.7 L803.0 354.9 L803.5 354.0 L804.0 353.2 L804.6 352.3 L805.1 351.5 L805.7 350.6 L806.2 349.8 L806.8 349.0 L807.4 348.2 L807.9 347.3 L808.5 346.5 L809.1 345.7 L809.7 344.9 L810.3 344.1 L810.9 343.3 L811.5 342.5 L812.1 341.8 L812.8 341.0 L813.4 340.2 L814.1 339.5 L814.7 338.7 L815.4 337.9 L816.0 337.2 L816.7 336.4 L817.4 335.7 L818.0 335.0 L818.7 334.2 L819.4 333.5 L820.1 332.7 L820.7 332.0 L821.4 331.3 L822.1 330.5 L822.8 329.8 L823.5 329.1 L824.1 328.3 L824.8 327.6 L825.5 326.8 L826.2 326.1 L826.8 325.4 L827.5 324.6 L828.2 323.9 L828.8 323.1 L829.5 322.4 L830.1 321.6 L830.8 320.9 L831.5 320.1 L832.1 319.3 L832.8 318.6 L833.4 317.8 L834.1 317.1 L834.7 316.3 L835.3 315.5 L836.0 314.8 L836.6 314.0 L837.3 313.2 L837.9 312.5 L838.6 311.7 L839.2 310.9 L839.9 310.2 L840.5 309.4 L841.1 308.6 L841.8 307.9 L842.4 307.1 L843.1 306.4 L843.8 305.6 L844.4 304.8 L845.1 304.1 L845.7 303.3 L846.4 302.6 L847.0 301.8 L847.7 301.1 L848.4 300.3 L849.0 299.6 L849.7 298.8 L850.4 298.1 L851.0 297.3 L851.7 296.5 L852.3 295.8 L853.0 295.0 L853.6 294.3 L854.3 293.5 L854.9 292.7 L855.6 292.0 L856.2 291.2 L856.9 290.4 L857.5 289.7 L858.1 288.9 L858.7 288.1 L859.4 287.3 L860.0 286.5 L860.6 285.7 L861.2 284.9 L861.8 284.1 L862.4 283.3 L862.9 282.5 L863.5 281.7 L864.1 280.9 L864.6 280.0 L865.2 279.2 L865.7 278.4 L866.3 277.5 L866.8 276.7 L867.3 275.8 L867.9 275.0 L868.4 274.1 L868.9 273.3 L869.4 272.4 L869.9 271.5 L870.4 270.7 L870.9 269.8 L871.4 268.9 L871.9 268.1 L872.4 267.2 L872.9 266.3 L873.4 265.4 L873.9 264.6 L874.4 263.7 L874.8 262.8 L875.3 261.9 L875.8 261.1 L876.3 260.2 L876.8 259.3 L877.3 258.4 L877.8 257.6 L878.3 256.7 L878.8 255.8 L879.3 254.9 L879.7 254.1 L880.2 253.2 L880.7 252.3 L881.2 251.5 L881.8 250.6 L882.3 249.8 L882.8 248.9 L883.3 248.0 L883.8 247.2 L884.3 246.3 L884.8 245.5 L885.4 244.6 L885.9 243.8 L886.4 242.9 L887.0 242.1 L887.5 241.3 L888.1 240.4 L888.6 239.6 L889.2 238.7 L889.7 237.9 L890.3 237.1 L890.9 236.3 L891.4 235.4 L892.0 234.6 L892.6 233.8 L893.2 233.0 L893.7 232.2 L894.3 231.4 L894.9 230.5 L895.5 229.7 L896.1 228.9 L896.7 228.1 L897.3 227.3 L897.9 226.5 L898.4 225.7 L899.0 224.9 L899.6 224.1 L900.2 223.3 L900.8 222.5 L901.5 221.7 L902.1 220.9 L902.7 220.1 L903.3 219.3 L903.9 218.5 L904.5 217.7 L905.1 216.9 L905.7 216.1 L906.4 215.4 L907.0 214.6 L907.6 213.8 L908.2 213.0 L908.9 212.2 L909.5 211.5 L910.1 210.7 L910.8 209.9 L911.4 209.2 L912.1 208.4 L912.7 207.6 L913.4 206.9 L914.0 206.1 L914.7 205.4 L915.3 204.6 L916.0 203.9 L916.7 203.1 L917.3 202.4 L918.0 201.6 L918.6 200.8 L919.3 200.1 L920.0 199.3 L920.6 198.6 L921.3 197.8 L921.9 197.1 L922.6 196.3 L923.2 195.5 L923.9 194.8 L924.5 194.0 L925.1 193.2 L925.8 192.5 L926.4 191.7 L927.0 190.9 L927.6 190.1 L928.2 189.3 L928.9 188.5 L929.5 187.7 L930.1 186.9 L930.7 186.2 L931.3 185.4 L931.9 184.6 L932.6 183.8 L933.2 183.0 L933.8 182.2 L934.4 181.5 L935.1 180.7 L935.7 179.9 L936.4 179.2 L937.0 178.4 L937.7 177.7 L938.3 176.9 L939.0 176.2 L939.7 175.4 L940.4 174.7 L941.1 174.0 L941.8 173.3 L942.5 172.5 L943.2 171.8 L943.9 171.1 L944.6 170.4 L945.3 169.7 L946.0 169.0 L946.7 168.3 L947.4 167.6 L948.1 166.9 L948.8 166.2 L949.5 165.4 L950.2 164.7 L951.0 164.0 L951.7 163.3 L952.4 162.6 L953.1 161.9 L953.8 161.2 L954.5 160.5 L955.2 159.8 L955.9 159.1 L956.6 158.3 L957.3 157.6 L958.0 156.9 L958.7 156.2 L959.3 155.4 L960.0 154.7 L960.7 154.0 L961.4 153.2 L962.1 152.5 L962.7 151.8 L963.4 151.0 L964.1 150.3 L964.7 149.5 L965.4 148.8 L966.1 148.0 L966.7 147.3 L967.4 146.5 L968.1 145.8 L968.7 145.0 L969.4 144.3 L970.0 143.5 L970.7 142.8 L971.3 142.0 L972.0 141.2 L972.7 140.5 L973.3 139.7 L974.0 139.0 L974.6 138.2 L975.3 137.5 L975.9 136.7 L976.6 135.9 L977.2 135.2 L977.9 134.4 L978.5 133.6 L979.2 132.9 L979.8 132.1 L980.4 131.4 L981.1 130.6 L981.7 129.8 L982.4 129.1 L983.0 128.3 L983.7 127.5 L984.3 126.8 L985.0 126.0 L985.6 125.2 L986.3 124.5 L986.9 123.7 L987.5 122.9 L988.2 122.2 L988.8 121.4 L989.5 120.6 L990.1 119.9 L990.8 119.1 L991.4 118.3 L992.0 117.6 L992.7 116.8 L993.3 116.0 L994.0 115.3 L994.6 114.5 L995.2 113.7 L995.9 113.0 L996.5 112.2 L997.2 111.4 L997.8 110.6 L998.4 109.9 L999.1 109.1 L999.7 108.3 L1000.4 107.6 L1001.0 106.8 L1001.6 106.0 L1002.3 105.3 L1002.9 104.5 L1003.6 103.7 L1004.2 103.0 L1004.8 102.2 L1005.5 101.4 L1006.1 100.6 L1006.8 99.9 L1007.4 99.1 L1008.0 98.3 L1008.7 97.6 L1009.3 96.8 L1010.0 96.0 L1010.6 95.3 L1011.2 94.5 L1011.9 93.7 L1012.5 93.0 L1013.2 92.2 L1013.8 91.4 L1014.5 90.7 L1015.1 89.9 L1015.8 89.1 L1016.4 88.4" stroke="#08ECF0" stroke-width="5.8"/>
<path d="M577.6 664 L577.4 680" stroke="#08ECF0" stroke-width="5"/>
<path d="M121.4 714.0 H1016.4" stroke="#08ECF0" stroke-width="7.5"/>
<path d="M121.4 44.5 L122.1 45.2 L122.9 45.8 L123.6 46.5 L124.3 47.2 L125.0 48.0 L125.7 48.7 L126.4 49.4 L127.1 50.1 L127.8 50.9 L128.4 51.6 L129.1 52.4 L129.8 53.1 L130.4 53.9 L131.1 54.6 L131.8 55.3 L132.5 56.1 L133.2 56.8 L133.9 57.5 L134.6 58.2 L135.3 58.9 L136.0 59.6 L136.7 60.3 L137.4 61.0 L138.2 61.7 L138.9 62.4 L139.6 63.1 L140.3 63.8 L141.0 64.5 L141.7 65.2 L142.4 66.0 L143.1 66.7 L143.8 67.4 L144.4 68.2 L145.1 68.9 L145.7 69.7 L146.4 70.5 L147.0 71.2 L147.6 72.0 L148.2 72.8 L148.8 73.6 L149.4 74.4 L150.0 75.2 L150.6 76.1 L151.2 76.9 L151.7 77.7 L152.3 78.5 L152.8 79.4 L153.4 80.2 L154.0 81.0 L154.5 81.9 L155.1 82.7 L155.6 83.5 L156.1 84.4 L156.7 85.2 L157.2 86.1 L157.8 86.9 L158.3 87.7 L158.9 88.6 L159.5 89.4 L160.0 90.2 L160.6 91.1 L161.1 91.9 L161.7 92.7 L162.3 93.5 L162.9 94.3 L163.4 95.1 L164.0 96.0 L164.6 96.8 L165.2 97.6 L165.8 98.4 L166.4 99.2 L167.0 100.0 L167.7 100.7 L168.3 101.5 L168.9 102.3 L169.5 103.1 L170.1 103.9 L170.7 104.7 L171.3 105.5 L172.0 106.3 L172.6 107.1 L173.2 107.9 L173.8 108.7 L174.4 109.5 L175.0 110.3 L175.6 111.1 L176.1 111.9 L176.7 112.7 L177.3 113.5 L177.8 114.4 L178.4 115.2 L178.9 116.0 L179.5 116.9 L180.0 117.7 L180.6 118.6 L181.1 119.4 L181.6 120.3 L182.2 121.1 L182.7 122.0 L183.2 122.8 L183.7 123.7 L184.2 124.6 L184.7 125.4 L185.2 126.3 L185.8 127.1 L186.3 128.0 L186.8 128.9 L187.3 129.7 L187.8 130.6 L188.3 131.4 L188.8 132.3 L189.4 133.1 L189.9 134.0 L190.4 134.8 L190.9 135.7 L191.5 136.5 L192.0 137.4 L192.6 138.2 L193.1 139.0 L193.7 139.9 L194.3 140.7 L194.8 141.5 L195.4 142.3 L196.0 143.2 L196.6 144.0 L197.2 144.8 L197.8 145.6 L198.4 146.4 L199.0 147.2 L199.6 148.0 L200.2 148.7 L200.8 149.5 L201.5 150.3 L202.1 151.1 L202.7 151.9 L203.3 152.7 L204.0 153.4 L204.6 154.2 L205.2 155.0 L205.8 155.8 L206.4 156.6 L207.0 157.4 L207.6 158.2 L208.2 159.0 L208.8 159.8 L209.4 160.6 L210.0 161.4 L210.6 162.2 L211.2 163.1 L211.7 163.9 L212.3 164.7 L212.9 165.5 L213.4 166.3 L214.0 167.2 L214.6 168.0 L215.1 168.8 L215.7 169.7 L216.2 170.5 L216.8 171.3 L217.4 172.1 L217.9 173.0 L218.5 173.8 L219.1 174.6 L219.7 175.4 L220.2 176.3 L220.8 177.1 L221.4 177.9 L222.0 178.7 L222.6 179.5 L223.2 180.3 L223.8 181.1 L224.5 181.8 L225.1 182.6 L225.7 183.4 L226.4 184.1 L227.1 184.9 L227.7 185.6 L228.4 186.4 L229.1 187.1 L229.8 187.8 L230.5 188.5 L231.2 189.3 L231.9 190.0 L232.6 190.7 L233.3 191.4 L234.0 192.1 L234.7 192.8 L235.4 193.5 L236.1 194.3 L236.8 195.0 L237.4 195.7 L238.1 196.5 L238.8 197.2 L239.4 198.0 L240.1 198.7 L240.7 199.5 L241.4 200.3 L242.0 201.1 L242.6 201.8 L243.2 202.6 L243.8 203.4 L244.4 204.2 L245.0 205.0 L245.6 205.8 L246.2 206.6 L246.8 207.4 L247.4 208.2 L248.0 209.1 L248.6 209.9 L249.2 210.7 L249.8 211.5 L250.4 212.3 L251.0 213.1 L251.6 213.9 L252.2 214.7 L252.8 215.5 L253.4 216.3 L254.0 217.1 L254.6 217.8 L255.3 218.6 L255.9 219.4 L256.5 220.2 L257.2 220.9 L257.8 221.7 L258.5 222.5 L259.1 223.2 L259.8 224.0 L260.5 224.7 L261.1 225.4 L261.8 226.2 L262.5 226.9 L263.2 227.7 L263.8 228.4 L264.5 229.2 L265.1 229.9 L265.8 230.7 L266.4 231.5 L267.1 232.2 L267.7 233.0 L268.3 233.8 L268.9 234.6 L269.5 235.4 L270.1 236.2 L270.7 237.0 L271.3 237.8 L271.8 238.7 L272.4 239.5 L272.9 240.3 L273.5 241.2 L274.0 242.0 L274.6 242.9 L275.1 243.7 L275.6 244.6 L276.1 245.4 L276.6 246.3 L277.2 247.1 L277.7 248.0 L278.2 248.9 L278.7 249.7 L279.2 250.6 L279.7 251.5 L280.2 252.3 L280.7 253.2 L281.3 254.0 L281.8 254.9 L282.3 255.7 L282.8 256.6 L283.4 257.4 L283.9 258.2 L284.5 259.1 L285.1 259.9 L285.6 260.7 L286.2 261.6 L286.8 262.4 L287.4 263.2 L288.0 264.0 L288.6 264.8 L289.2 265.6 L289.8 266.4 L290.4 267.1 L291.1 267.9 L291.7 268.7 L292.3 269.5 L293.0 270.2 L293.6 271.0 L294.2 271.8 L294.9 272.6 L295.5 273.3 L296.1 274.1 L296.7 274.9 L297.3 275.7 L297.9 276.5 L298.5 277.3 L299.1 278.1 L299.7 278.9 L300.3 279.7 L300.9 280.6 L301.4 281.4 L302.0 282.2 L302.6 283.0 L303.1 283.9 L303.7 284.7 L304.2 285.5 L304.8 286.4 L305.3 287.2 L305.8 288.1 L306.4 288.9 L306.9 289.8 L307.4 290.6 L308.0 291.5 L308.5 292.3 L309.0 293.2 L309.6 294.0 L310.1 294.9 L310.6 295.7 L311.1 296.6 L311.7 297.4 L312.2 298.3 L312.7 299.1 L313.3 300.0 L313.8 300.8 L314.3 301.7 L314.9 302.5 L315.4 303.4 L315.9 304.2 L316.5 305.0 L317.0 305.9 L317.5 306.7 L318.1 307.6 L318.6 308.4 L319.2 309.2 L319.7 310.1 L320.3 310.9 L320.8 311.7 L321.4 312.6 L322.0 313.4 L322.5 314.2 L323.1 315.1 L323.6 315.9 L324.2 316.7 L324.8 317.6 L325.3 318.4 L325.9 319.2 L326.5 320.0 L327.0 320.9 L327.6 321.7 L328.2 322.5 L328.7 323.3 L329.3 324.2 L329.9 325.0 L330.4 325.8 L331.0 326.6 L331.6 327.5 L332.1 328.3 L332.7 329.1 L333.3 329.9 L333.9 330.7 L334.4 331.6 L335.0 332.4 L335.6 333.2 L336.2 334.0 L336.8 334.8 L337.4 335.6 L338.0 336.4 L338.7 337.1 L339.3 337.9 L339.9 338.7 L340.6 339.5 L341.2 340.2 L341.8 341.0 L342.5 341.8 L343.1 342.5 L343.8 343.3 L344.4 344.0 L345.1 344.8 L345.8 345.6 L346.4 346.3 L347.1 347.1 L347.7 347.9 L348.3 348.6 L349.0 349.4 L349.6 350.2 L350.2 350.9 L350.9 351.7 L351.5 352.5 L352.1 353.3 L352.7 354.1 L353.3 354.9 L353.9 355.7 L354.4 356.6 L355.0 357.4 L355.6 358.2 L356.1 359.1 L356.6 359.9 L357.2 360.8 L357.7 361.6 L358.2 362.5 L358.7 363.4 L359.2 364.2 L359.6 365.1 L360.1 366.0 L360.6 366.9 L361.0 367.8 L361.4 368.7 L361.9 369.6 L362.3 370.5 L362.7 371.4 L363.1 372.3 L363.5 373.3 L363.9 374.2 L364.3 375.1 L364.7 376.0 L365.1 376.9 L365.5 377.9 L365.9 378.8 L366.3 379.7 L366.7 380.6 L367.1 381.5 L367.5 382.4 L368.0 383.3 L368.4 384.2 L368.8 385.1 L369.3 386.0 L369.8 386.9 L370.2 387.8 L370.7 388.7 L371.2 389.5 L371.7 390.4 L372.2 391.3 L372.8 392.1 L373.3 393.0 L373.8 393.8 L374.4 394.6 L375.0 395.5 L375.5 396.3 L376.1 397.1 L376.7 397.9 L377.3 398.7 L377.9 399.5 L378.6 400.2 L379.2 401.0 L379.9 401.8 L380.6 402.5 L381.3 403.2 L382.0 403.9 L382.8 404.6 L383.5 405.3 L384.2 405.9 L385.0 406.6 L385.7 407.3 L386.5 408.0 L387.2 408.7 L387.9 409.3 L388.6 410.1 L389.3 410.8 L389.9 411.5 L390.6 412.3 L391.2 413.1 L391.7 413.9 L392.3 414.7 L392.8 415.6 L393.3 416.4 L393.9 417.3 L394.3 418.2 L394.8 419.0 L395.3 419.9 L395.8 420.8 L396.3 421.7 L396.8 422.6 L397.3 423.5 L397.8 424.3 L398.3 425.2 L398.9 426.0 L399.4 426.9 L400.0 427.7 L400.6 428.5 L401.2 429.3 L401.8 430.0 L402.5 430.8 L403.2 431.5 L403.9 432.2 L404.6 432.9 L405.4 433.6 L406.2 434.2 L407.0 434.9 L407.9 435.4 L408.8 436.0 L409.7 436.4 L410.6 436.8 L411.5 437.2 L412.5 437.4 L413.5 437.5 L414.5 437.5 L415.5 437.5 L416.5 437.4 L417.5 437.4 L418.5 437.4 L419.5 437.5 L420.5 437.7 L421.4 438.0 L422.3 438.5 L423.1 439.0 L423.9 439.7 L424.7 440.4 L425.4 441.1 L426.1 441.9 L426.8 442.7 L427.4 443.5 L428.0 444.3 L428.6 445.1 L429.1 445.9 L429.7 446.7 L430.2 447.5 L430.8 448.3 L431.4 449.1 L432.0 449.9 L432.6 450.7 L433.3 451.5 L434.0 452.3 L434.8 453.1 L435.6 453.8 L436.4 454.5 L437.2 455.1 L438.1 455.6 L439.0 456.0 L439.9 456.2 L440.8 456.2 L441.7 456.1 L442.6 455.8 L443.5 455.4 L444.4 454.8 L445.2 454.2 L446.1 453.5 L447.0 452.8 L447.8 452.1 L448.7 451.3 L449.6 450.6 L450.4 449.9 L451.3 449.2 L452.1 448.7 L453.0 448.2 L453.9 447.9 L454.8 447.8 L455.6 447.8 L456.5 448.1 L457.4 448.4 L458.3 448.9 L459.2 449.6 L460.0 450.2 L460.8 451.0 L461.5 451.8 L462.2 452.6 L462.9 453.4 L463.5 454.2 L464.1 455.0 L464.7 455.8 L465.2 456.6 L465.8 457.3 L466.5 458.1 L467.2 458.8 L467.9 459.5 L468.7 460.2 L469.6 460.9 L470.5 461.4 L471.4 461.7 L472.3 461.8 L473.2 461.6 L474.0 461.2 L474.8 460.6 L475.6 459.8 L476.3 459.0 L477.0 458.0 L477.6 457.1 L478.2 456.1 L478.7 455.2 L479.2 454.3 L479.6 453.4 L480.0 452.5 L480.5 451.7 L480.9 450.8 L481.4 450.0 L481.8 449.1 L482.3 448.3 L482.9 447.5 L483.5 446.7 L484.2 445.8 L484.9 445.0 L485.7 444.3 L486.5 443.6 L487.4 443.1 L488.3 442.9 L489.2 442.8 L490.1 443.0 L490.9 443.5 L491.8 444.1 L492.6 444.9 L493.3 445.7 L494.0 446.6 L494.7 447.4 L495.3 448.2 L495.8 449.1 L496.4 449.9 L496.9 450.7 L497.5 451.5 L498.1 452.3 L498.7 453.1 L499.4 453.9 L500.2 454.7 L501.0 455.3 L501.8 455.8 L502.6 456.0 L503.3 455.9 L504.0 455.5 L504.6 455.0 L505.3 454.2 L505.8 453.3 L506.4 452.2 L506.9 451.1 L507.4 449.9 L507.9 448.7 L508.3 447.5 L508.7 446.3 L509.1 445.2 L509.4 444.1 L509.8 443.1 L510.1 442.2 L510.4 441.2 L510.7 440.4 L511.0 439.5 L511.3 438.6 L511.5 437.8 L511.8 436.9 L512.1 436.0 L512.4 435.2 L512.7 434.3 L513.0 433.3 L513.3 432.4 L513.7 431.3 L514.0 430.3 L514.4 429.1 L514.8 428.0 L515.3 426.8 L515.7 425.6 L516.2 424.4 L516.7 423.3 L517.2 422.2 L517.7 421.2 L518.2 420.4 L518.8 419.7 L519.3 419.1 L519.9 418.8 L520.5 418.6 L521.1 418.7 L521.7 419.0 L522.2 419.5 L522.8 420.2 L523.4 421.0 L524.0 421.9 L524.7 423.0 L525.3 424.1 L525.9 425.3 L526.5 426.4 L527.1 427.6 L527.7 428.8 L528.3 429.8 L528.9 430.8 L529.5 431.7 L530.1 432.4 L530.7 433.0 L531.3 433.4 L531.9 433.5 L532.5 433.4 L533.1 433.1 L533.7 432.5 L534.2 431.8 L534.8 430.9 L535.3 430.0 L535.8 428.9 L536.3 427.7 L536.8 426.5 L537.2 425.3 L537.6 424.1 L537.9 422.9 L538.3 421.7 L538.5 420.6 L538.8 419.5 L539.0 418.4 L539.2 417.3 L539.4 416.3 L539.5 415.2 L539.7 414.2 L539.8 413.2 L539.8 412.3 L539.9 411.3 L540.0 410.4 L540.0 409.4 L540.1 408.5 L540.1 407.6 L540.1 406.6 L540.1 405.7 L540.2 404.8 L540.2 403.9 L540.2 403.0 L540.2 402.0 L540.3 401.1 L540.3 400.2 L540.3 399.2 L540.4 398.3 L540.5 397.3 L540.6 396.3 L540.6 395.4 L540.7 394.4 L540.8 393.4 L540.9 392.4 L541.1 391.4 L541.2 390.4 L541.3 389.4 L541.4 388.4 L541.5 387.4 L541.7 386.4 L541.8 385.4 L541.9 384.3 L542.0 383.3 L542.2 382.3 L542.3 381.3 L542.4 380.3 L542.5 379.3 L542.6 378.3 L542.7 377.3 L542.9 376.3 L543.0 375.3 L543.1 374.3 L543.1 373.3 L543.2 372.3 L543.3 371.3 L543.4 370.3 L543.5 369.3 L543.6 368.3 L543.7 367.3 L543.7 366.3 L543.8 365.3 L543.9 364.3 L544.0 363.3 L544.0 362.3 L544.1 361.3 L544.2 360.4 L544.2 359.4 L544.3 358.4 L544.4 357.4 L544.4 356.4 L544.5 355.4 L544.6 354.4 L544.6 353.4 L544.7 352.4 L544.8 351.5 L544.8 350.5 L544.9 349.5 L545.0 348.5 L545.0 347.5 L545.1 346.5 L545.2 345.5 L545.2 344.5 L545.3 343.5 L545.4 342.5 L545.4 341.5 L545.5 340.5 L545.6 339.5 L545.6 338.5 L545.7 337.4 L545.8 336.4 L545.9 335.4 L546.0 334.4 L546.0 333.4 L546.1 332.3 L546.2 331.3 L546.3 330.3 L546.4 329.3 L546.5 328.2 L546.6 327.2 L546.7 326.2 L546.8 325.1 L546.9 324.1 L547.0 323.1 L547.1 322.0 L547.2 321.0 L547.3 320.0 L547.4 319.0 L547.5 317.9 L547.6 316.9 L547.7 315.9 L547.8 314.9 L547.9 313.9 L548.0 312.9 L548.1 311.9 L548.2 310.9 L548.4 309.9 L548.5 308.9 L548.6 307.9 L548.7 306.9 L548.8 306.0 L548.9 305.0 L549.0 304.1 L549.1 303.1 L549.2 302.2 L549.3 301.3 L549.4 300.3 L549.5 299.4 L549.6 298.5 L549.7 297.6 L549.8 296.7 L549.9 295.9 L550.0 295.0 L550.1 294.1 L550.2 293.2 L550.3 292.2 L550.4 291.3 L550.5 290.3 L550.6 289.3 L550.7 288.3 L550.9 287.2 L551.0 286.1 L551.2 284.9 L551.4 283.7 L551.6 282.4 L551.8 281.1 L552.0 280.0 L552.2 279.1 L552.4 278.5 L552.7 278.3 L552.9 278.5 L553.1 279.1 L553.4 279.9 L553.6 281.0 L553.8 282.3 L554.1 283.7 L554.3 285.1 L554.5 286.6 L554.7 288.1 L554.9 289.5 L555.1 290.9 L555.3 292.2 L555.4 293.4 L555.6 294.6 L555.7 295.8 L555.9 296.9 L556.0 298.0 L556.1 299.0 L556.2 300.1 L556.3 301.0 L556.4 302.0 L556.5 302.9 L556.6 303.9 L556.7 304.7 L556.8 305.6 L556.8 306.5 L556.9 307.3 L557.0 308.2 L557.0 309.0 L557.1 309.8 L557.1 310.6 L557.2 311.5 L557.2 312.3 L557.3 313.1 L557.3 313.9 L557.4 314.8 L557.4 315.6 L557.5 316.5 L557.5 317.4 L557.6 318.3 L557.6 319.2 L557.7 320.1 L557.7 321.0 L557.8 322.0 L557.8 322.9 L557.9 323.9 L557.9 324.8 L557.9 325.8 L558.0 326.8 L558.0 327.8 L558.1 328.8 L558.1 329.8 L558.2 330.8 L558.2 331.8 L558.3 332.9 L558.3 333.9 L558.4 334.9 L558.4 335.9 L558.5 337.0 L558.6 338.0 L558.6 339.1 L558.7 340.1 L558.7 341.2 L558.8 342.2 L558.8 343.3 L558.9 344.3 L558.9 345.4 L559.0 346.4 L559.0 347.5 L559.1 348.5 L559.1 349.6 L559.2 350.6 L559.3 351.7 L559.3 352.7 L559.4 353.7 L559.4 354.8 L559.5 355.8 L559.6 356.8 L559.6 357.8 L559.7 358.9 L559.7 359.9 L559.8 360.9 L559.9 361.9 L559.9 362.9 L560.0 363.9 L560.0 364.9 L560.1 365.9 L560.2 366.9 L560.2 367.9 L560.3 368.9 L560.4 369.9 L560.4 370.9 L560.5 371.9 L560.6 372.9 L560.6 373.9 L560.7 374.8 L560.7 375.8 L560.8 376.8 L560.9 377.8 L560.9 378.8 L561.0 379.8 L561.1 380.8 L561.2 381.7 L561.2 382.7 L561.3 383.7 L561.4 384.7 L561.4 385.7 L561.5 386.7 L561.6 387.7 L561.6 388.7 L561.7 389.6 L561.8 390.6 L561.8 391.6 L561.9 392.6 L562.0 393.6 L562.0 394.6 L562.1 395.6 L562.2 396.6 L562.2 397.6 L562.3 398.6 L562.4 399.6 L562.4 400.6 L562.5 401.6 L562.6 402.6 L562.6 403.6 L562.7 404.6 L562.8 405.6 L562.8 406.6 L562.9 407.6 L562.9 408.6 L563.0 409.6 L563.0 410.6 L563.1 411.6 L563.1 412.6 L563.2 413.6 L563.2 414.6 L563.3 415.6 L563.3 416.6 L563.4 417.6 L563.4 418.6 L563.4 419.6 L563.5 420.6 L563.5 421.6 L563.5 422.6 L563.6 423.6 L563.6 424.6 L563.6 425.6 L563.7 426.6 L563.7 427.6 L563.7 428.6 L563.8 429.6 L563.8 430.6 L563.8 431.6 L563.8 432.6 L563.9 433.6 L563.9 434.6 L563.9 435.6 L563.9 436.6 L564.0 437.6 L564.0 438.6 L564.0 439.6 L564.0 440.6 L564.0 441.6 L564.0 442.6 L564.1 443.6 L564.1 444.6 L564.1 445.6 L564.1 446.6 L564.1 447.6 L564.1 448.6 L564.2 449.6 L564.2 450.6 L564.2 451.6 L564.2 452.6 L564.2 453.6 L564.2 454.6 L564.2 455.6 L564.2 456.6 L564.3 457.6 L564.3 458.6 L564.3 459.6 L564.3 460.6 L564.3 461.6 L564.3 462.6 L564.3 463.6 L564.4 464.6 L564.4 465.6 L564.4 466.6 L564.4 467.6 L564.4 468.6 L564.4 469.6 L564.4 470.6 L564.5 471.7 L564.5 472.7 L564.5 473.7 L564.5 474.7 L564.5 475.7 L564.5 476.7 L564.6 477.7 L564.6 478.7 L564.6 479.7 L564.6 480.7 L564.6 481.7 L564.7 482.7 L564.7 483.7 L564.7 484.7 L564.7 485.7 L564.8 486.7 L564.8 487.7 L564.8 488.7 L564.8 489.7 L564.9 490.7 L564.9 491.7 L564.9 492.7 L564.9 493.7 L565.0 494.7 L565.0 495.7 L565.0 496.7 L565.1 497.7 L565.1 498.8 L565.1 499.8 L565.2 500.8 L565.2 501.8 L565.2 502.8 L565.3 503.8 L565.3 504.8 L565.3 505.8 L565.4 506.8 L565.4 507.8 L565.4 508.8 L565.5 509.8 L565.5 510.8 L565.5 511.8 L565.6 512.8 L565.6 513.8 L565.7 514.8 L565.7 515.8 L565.8 516.8 L565.8 517.8 L565.8 518.8 L565.9 519.8 L565.9 520.8 L566.0 521.8 L566.0 522.8 L566.1 523.8 L566.1 524.8 L566.2 525.8 L566.2 526.8 L566.3 527.8 L566.3 528.8 L566.4 529.8 L566.4 530.8 L566.5 531.8 L566.5 532.8 L566.6 533.8 L566.6 534.8 L566.7 535.8 L566.7 536.8 L566.8 537.8 L566.8 538.8 L566.9 539.8 L567.0 540.8 L567.0 541.8 L567.1 542.8 L567.1 543.8 L567.2 544.8 L567.3 545.8 L567.3 546.8 L567.4 547.8 L567.4 548.8 L567.5 549.8 L567.6 550.7 L567.6 551.7 L567.7 552.7 L567.8 553.7 L567.8 554.7 L567.9 555.7 L568.0 556.7 L568.0 557.7 L568.1 558.7 L568.2 559.7 L568.2 560.6 L568.3 561.6 L568.4 562.6 L568.5 563.6 L568.5 564.6 L568.6 565.6 L568.7 566.6 L568.8 567.5 L568.8 568.5 L568.9 569.5 L569.0 570.5 L569.1 571.5 L569.1 572.5 L569.2 573.5 L569.3 574.4 L569.4 575.4 L569.5 576.4 L569.5 577.4 L569.6 578.4 L569.7 579.4 L569.8 580.4 L569.9 581.4 L570.0 582.4 L570.0 583.3 L570.1 584.3 L570.2 585.3 L570.3 586.3 L570.4 587.3 L570.5 588.3 L570.5 589.3 L570.6 590.3 L570.7 591.3 L570.8 592.3 L570.9 593.3 L571.0 594.3 L571.0 595.3 L571.1 596.3 L571.2 597.4 L571.3 598.4 L571.4 599.4 L571.5 600.4 L571.6 601.4 L571.6 602.4 L571.7 603.5 L571.8 604.5 L571.9 605.5 L572.0 606.5 L572.1 607.6 L572.2 608.6 L572.3 609.6 L572.3 610.7 L572.4 611.7 L572.5 612.7 L572.6 613.8 L572.7 614.8 L572.8 615.9 L572.9 616.9 L572.9 617.9 L573.0 619.0 L573.1 620.0 L573.2 621.1 L573.3 622.1 L573.4 623.1 L573.4 624.2 L573.5 625.2 L573.6 626.2 L573.7 627.2 L573.8 628.3 L573.8 629.3 L573.9 630.3 L574.0 631.3 L574.1 632.3 L574.1 633.3 L574.2 634.3 L574.3 635.3 L574.4 636.3 L574.4 637.3 L574.5 638.3 L574.6 639.2 L574.7 640.2 L574.7 641.2 L574.8 642.1 L574.9 643.1 L574.9 644.0 L575.0 644.9 L575.1 645.8 L575.1 646.8 L575.2 647.7 L575.2 648.6 L575.3 649.4 L575.4 650.3 L575.4 651.2 L575.5 652.1 L575.6 653.0 L575.7 653.9 L575.8 654.8 L575.9 655.7 L576.0 656.7 L576.2 657.7 L576.4 658.7 L576.6 659.8 L576.9 660.9 L577.2 662.1 L577.5 663.4 L577.9 664.7 L578.3 665.8 L578.7 666.8 L579.2 667.4 L579.7 667.6 L580.2 667.3 L580.7 666.5 L581.1 665.5 L581.6 664.2 L582.0 663.0 L582.4 661.8 L582.7 660.6 L583.0 659.5 L583.2 658.4 L583.5 657.4 L583.7 656.4 L583.8 655.4 L584.0 654.5 L584.1 653.6 L584.2 652.7 L584.3 651.9 L584.4 651.0 L584.5 650.1 L584.6 649.2 L584.7 648.4 L584.8 647.5 L584.9 646.6 L585.0 645.7 L585.1 644.7 L585.3 643.8 L585.4 642.9 L585.5 642.0 L585.6 641.0 L585.7 640.1 L585.9 639.1 L586.0 638.2 L586.1 637.2 L586.3 636.2 L586.4 635.2 L586.5 634.3 L586.7 633.3 L586.8 632.3 L586.9 631.3 L587.1 630.3 L587.2 629.3 L587.4 628.3 L587.5 627.3 L587.7 626.2 L587.8 625.2 L588.0 624.2 L588.1 623.2 L588.3 622.2 L588.4 621.1 L588.6 620.1 L588.7 619.1 L588.9 618.0 L589.1 617.0 L589.2 615.9 L589.4 614.9 L589.5 613.9 L589.7 612.8 L589.8 611.8 L590.0 610.7 L590.2 609.7 L590.3 608.7 L590.5 607.6 L590.6 606.6 L590.8 605.6 L590.9 604.5 L591.1 603.5 L591.2 602.4 L591.4 601.4 L591.6 600.4 L591.7 599.4 L591.9 598.3 L592.0 597.3 L592.2 596.3 L592.3 595.2 L592.4 594.2 L592.6 593.2 L592.7 592.2 L592.9 591.2 L593.0 590.2 L593.2 589.1 L593.3 588.1 L593.5 587.1 L593.6 586.1 L593.7 585.1 L593.9 584.1 L594.0 583.1 L594.1 582.1 L594.3 581.1 L594.4 580.1 L594.5 579.2 L594.7 578.2 L594.8 577.2 L594.9 576.2 L595.0 575.2 L595.2 574.3 L595.3 573.3 L595.4 572.3 L595.5 571.4 L595.6 570.4 L595.7 569.5 L595.9 568.5 L596.0 567.6 L596.1 566.6 L596.2 565.7 L596.3 564.7 L596.4 563.8 L596.5 562.9 L596.6 562.0 L596.7 561.0 L596.8 560.1 L596.9 559.2 L597.0 558.3 L597.1 557.3 L597.3 556.4 L597.5 555.4 L597.6 554.5 L597.9 553.5 L598.1 552.4 L598.4 551.4 L598.8 550.3 L599.2 549.2 L599.6 548.1 L600.1 547.0 L600.6 545.9 L601.2 544.9 L601.8 544.0 L602.4 543.3 L603.1 542.8 L603.8 542.6 L604.5 542.7 L605.2 543.0 L605.9 543.6 L606.7 544.3 L607.5 545.1 L608.3 546.0 L609.1 547.0 L609.9 547.9 L610.8 548.7 L611.6 549.5 L612.5 550.1 L613.3 550.6 L614.2 550.9 L614.9 551.0 L615.7 550.8 L616.4 550.4 L617.1 549.8 L617.7 549.1 L618.3 548.2 L618.8 547.2 L619.4 546.1 L619.9 545.0 L620.4 543.9 L620.8 542.8 L621.3 541.8 L621.7 540.7 L622.1 539.7 L622.4 538.8 L622.8 537.8 L623.1 536.9 L623.5 535.9 L623.8 535.0 L624.1 534.1 L624.4 533.2 L624.7 532.3 L625.0 531.4 L625.3 530.5 L625.5 529.6 L625.8 528.7 L626.1 527.8 L626.4 526.9 L626.7 526.0 L627.0 525.0 L627.3 524.1 L627.7 523.2 L628.1 522.2 L628.5 521.3 L629.0 520.4 L629.5 519.6 L630.1 518.7 L630.8 517.9 L631.5 517.1 L632.4 516.4 L633.3 515.8 L634.2 515.2 L635.1 514.9 L636.0 514.7 L636.9 514.8 L637.7 515.1 L638.4 515.6 L639.1 516.2 L639.8 517.0 L640.5 517.8 L641.2 518.8 L642.0 519.7 L642.8 520.6 L643.6 521.4 L644.5 522.2 L645.4 522.8 L646.2 523.3 L647.1 523.6 L647.9 523.6 L648.7 523.4 L649.4 523.0 L650.1 522.3 L650.7 521.5 L651.3 520.6 L651.9 519.6 L652.5 518.6 L653.0 517.5 L653.5 516.5 L653.9 515.5 L654.4 514.6 L654.8 513.7 L655.3 512.8 L655.7 512.0 L656.2 511.1 L656.6 510.3 L657.1 509.4 L657.5 508.6 L658.0 507.7 L658.6 506.8 L659.1 505.9 L659.7 505.0 L660.3 504.1 L660.9 503.2 L661.6 502.4 L662.4 501.7 L663.1 501.1 L664.0 500.7 L664.9 500.6 L665.8 500.6 L666.8 500.8 L667.7 501.2 L668.7 501.7 L669.6 502.2 L670.5 502.8 L671.4 503.4 L672.2 503.9 L673.0 504.5 L673.8 505.1 L674.6 505.6 L675.5 506.1 L676.4 506.6 L677.4 506.9 L678.4 507.2 L679.4 507.2 L680.2 507.0 L681.1 506.6 L681.8 506.0 L682.5 505.2 L683.2 504.4 L683.8 503.4 L684.4 502.5 L685.0 501.6 L685.6 500.7 L686.2 499.8 L686.8 499.0 L687.4 498.2 L688.0 497.4 L688.6 496.6 L689.2 495.9 L689.8 495.1 L690.4 494.3 L691.0 493.6 L691.6 492.8 L692.3 492.0 L693.0 491.3 L693.7 490.5 L694.4 489.8 L695.2 489.2 L696.0 488.6 L696.9 488.1 L697.9 487.7 L698.8 487.3 L699.8 487.1 L700.8 487.0 L701.8 487.1 L702.8 487.3 L703.7 487.6 L704.7 488.0 L705.6 488.4 L706.6 488.7 L707.5 488.9 L708.6 489.0 L709.6 488.9 L710.6 488.7 L711.5 488.4 L712.4 488.0 L713.3 487.4 L714.0 486.8 L714.7 486.1 L715.4 485.3 L716.0 484.5 L716.5 483.7 L717.1 482.8 L717.6 481.8 L718.1 480.9 L718.6 480.0 L719.1 479.1 L719.6 478.2 L720.1 477.3 L720.6 476.5 L721.1 475.6 L721.6 474.8 L722.1 473.9 L722.6 473.1 L723.2 472.3 L723.7 471.4 L724.3 470.6 L724.9 469.8 L725.5 469.0 L726.1 468.2 L726.7 467.4 L727.4 466.7 L728.1 465.9 L728.8 465.2 L729.5 464.5 L730.3 463.9 L731.1 463.3 L731.9 462.7 L732.7 462.2 L733.6 461.7 L734.5 461.2 L735.3 460.7 L736.2 460.2 L737.1 459.7 L738.0 459.2 L738.9 458.7 L739.8 458.2 L740.6 457.6 L741.4 457.1 L742.2 456.4 L742.9 455.8 L743.6 455.1 L744.2 454.3 L744.8 453.5 L745.4 452.7 L745.9 451.8 L746.3 450.9 L746.8 450.0 L747.2 449.1 L747.7 448.1 L748.1 447.2 L748.5 446.3 L748.9 445.3 L749.3 444.4 L749.7 443.4 L750.1 442.5 L750.5 441.5 L750.9 440.6 L751.3 439.7 L751.8 438.7 L752.2 437.8 L752.6 436.9 L753.1 436.0 L753.5 435.1 L754.0 434.2 L754.5 433.4 L755.0 432.5 L755.5 431.7 L756.0 430.8 L756.5 430.0 L757.1 429.2 L757.7 428.4 L758.3 427.6 L758.9 426.8 L759.5 426.1 L760.2 425.4 L760.9 424.6 L761.6 423.9 L762.3 423.2 L763.0 422.5 L763.8 421.9 L764.5 421.2 L765.3 420.5 L766.0 419.8 L766.8 419.2 L767.5 418.5 L768.3 417.8 L769.0 417.1 L769.7 416.4 L770.4 415.7 L771.1 415.0 L771.8 414.3 L772.4 413.5 L773.1 412.7 L773.7 412.0 L774.3 411.2 L774.8 410.3 L775.4 409.5 L775.9 408.7 L776.5 407.8 L777.0 407.0 L777.5 406.1 L777.9 405.2 L778.4 404.3 L778.9 403.4 L779.3 402.5 L779.8 401.6 L780.2 400.7 L780.6 399.8 L781.1 398.9 L781.5 398.0 L781.9 397.0 L782.4 396.1 L782.8 395.2 L783.3 394.3 L783.7 393.4 L784.1 392.5 L784.6 391.6 L785.0 390.7 L785.5 389.8 L785.9 388.9 L786.4 388.0 L786.8 387.1 L787.3 386.2 L787.7 385.3 L788.2 384.4 L788.6 383.6 L789.1 382.7 L789.6 381.8 L790.0 380.9 L790.5 380.0 L790.9 379.1 L791.4 378.3 L791.9 377.4 L792.3 376.5 L792.8 375.6 L793.3 374.7 L793.8 373.8 L794.2 373.0 L794.7 372.1 L795.2 371.2 L795.7 370.3 L796.1 369.4 L796.6 368.6 L797.1 367.7 L797.6 366.8 L798.1 365.9 L798.6 365.1 L799.1 364.2 L799.5 363.3 L800.0 362.4 L800.5 361.6 L801.1 360.7 L801.6 359.8 L802.1 359.0 L802.6 358.1 L803.1 357.2 L803.6 356.4 L804.2 355.5 L804.7 354.7 L805.2 353.9 L805.8 353.0 L806.3 352.2 L806.9 351.4 L807.5 350.5 L808.0 349.7 L808.6 348.9 L809.2 348.1 L809.8 347.3 L810.4 346.5 L811.0 345.7 L811.6 344.9 L812.2 344.1 L812.9 343.3 L813.5 342.6 L814.1 341.8 L814.8 341.0 L815.4 340.3 L816.1 339.5 L816.8 338.8 L817.4 338.0 L818.1 337.3 L818.8 336.5 L819.4 335.8 L820.1 335.0 L820.8 334.3 L821.5 333.6 L822.1 332.8 L822.8 332.1 L823.5 331.4 L824.2 330.6 L824.9 329.9 L825.6 329.2 L826.2 328.4 L826.9 327.7 L827.6 326.9 L828.2 326.2 L828.9 325.4 L829.6 324.7 L830.2 323.9 L830.9 323.2 L831.5 322.4 L832.2 321.7 L832.8 320.9 L833.5 320.2 L834.1 319.4 L834.8 318.6 L835.4 317.9 L836.1 317.1 L836.7 316.3 L837.4 315.6 L838.0 314.8 L838.7 314.0 L839.3 313.3 L840.0 312.5 L840.6 311.7 L841.2 311.0 L841.9 310.2 L842.5 309.5 L843.2 308.7 L843.9 307.9 L844.5 307.2 L845.2 306.4 L845.8 305.7 L846.5 304.9 L847.1 304.2 L847.8 303.4 L848.5 302.6 L849.1 301.9 L849.8 301.1 L850.5 300.4 L851.1 299.6 L851.8 298.9 L852.4 298.1 L853.1 297.4 L853.8 296.6 L854.4 295.8 L855.1 295.1 L855.7 294.3 L856.3 293.6 L857.0 292.8 L857.6 292.0 L858.3 291.2 L858.9 290.5 L859.5 289.7 L860.1 288.9 L860.7 288.1 L861.3 287.3 L861.9 286.5 L862.5 285.7 L863.1 284.9 L863.7 284.1 L864.2 283.2 L864.8 282.4 L865.4 281.6 L865.9 280.8 L866.5 279.9 L867.0 279.1 L867.5 278.2 L868.1 277.4 L868.6 276.5 L869.1 275.7 L869.6 274.8 L870.1 273.9 L870.6 273.1 L871.1 272.2 L871.6 271.3 L872.1 270.5 L872.6 269.6 L873.1 268.7 L873.6 267.8 L874.1 267.0 L874.6 266.1 L875.1 265.2 L875.6 264.3 L876.0 263.5 L876.5 262.6 L877.0 261.7 L877.5 260.8 L878.0 260.0 L878.5 259.1 L879.0 258.2 L879.5 257.4 L880.0 256.5 L880.5 255.6 L881.0 254.8 L881.5 253.9 L882.0 253.0 L882.5 252.2 L883.0 251.3 L883.5 250.4 L884.0 249.6 L884.5 248.7 L885.1 247.9 L885.6 247.0 L886.1 246.2 L886.6 245.3 L887.2 244.5 L887.7 243.6 L888.3 242.8 L888.8 242.0 L889.4 241.1 L889.9 240.3 L890.5 239.5 L891.1 238.7 L891.6 237.8 L892.2 237.0 L892.8 236.2 L893.3 235.4 L893.9 234.5 L894.5 233.7 L895.1 232.9 L895.7 232.1 L896.3 231.3 L896.9 230.5 L897.5 229.7 L898.0 228.9 L898.6 228.1 L899.2 227.3 L899.8 226.5 L900.4 225.7 L901.0 224.9 L901.6 224.1 L902.3 223.3 L902.9 222.5 L903.5 221.7 L904.1 220.9 L904.7 220.1 L905.3 219.3 L905.9 218.5 L906.5 217.7 L907.2 216.9 L907.8 216.2 L908.4 215.4 L909.1 214.6 L909.7 213.8 L910.3 213.1 L911.0 212.3 L911.6 211.5 L912.3 210.8 L912.9 210.0 L913.6 209.2 L914.2 208.5 L914.9 207.7 L915.5 207.0 L916.2 206.2 L916.8 205.5 L917.5 204.7 L918.2 204.0 L918.8 203.2 L919.5 202.5 L920.2 201.7 L920.8 201.0 L921.5 200.2 L922.1 199.5 L922.8 198.7 L923.4 197.9 L924.1 197.2 L924.7 196.4 L925.4 195.6 L926.0 194.9 L926.6 194.1 L927.3 193.3 L927.9 192.5 L928.5 191.8 L929.1 191.0 L929.8 190.2 L930.4 189.4 L931.0 188.6 L931.6 187.8 L932.3 187.0 L932.9 186.3 L933.5 185.5 L934.2 184.7 L934.8 183.9 L935.4 183.2 L936.1 182.4 L936.7 181.7 L937.4 180.9 L938.1 180.2 L938.7 179.4 L939.4 178.7 L940.1 178.0 L940.8 177.2 L941.5 176.5 L942.2 175.8 L942.9 175.1 L943.6 174.4 L944.3 173.7 L945.0 173.0 L945.7 172.3 L946.4 171.6 L947.2 170.9 L947.9 170.2 L948.6 169.5 L949.3 168.8 L950.0 168.1 L950.8 167.4 L951.5 166.7 L952.2 166.0 L952.9 165.3 L953.6 164.6 L954.3 163.9 L955.1 163.2 L955.8 162.5 L956.5 161.8 L957.2 161.1 L957.9 160.3 L958.6 159.6 L959.3 158.9 L960.0 158.2 L960.7 157.4 L961.3 156.7 L962.0 156.0 L962.7 155.3 L963.4 154.5 L964.1 153.8 L964.7 153.1 L965.4 152.3 L966.1 151.6 L966.8 150.8 L967.4 150.1 L968.1 149.3 L968.8 148.6 L969.4 147.8 L970.1 147.1 L970.8 146.3 L971.4 145.6 L972.1 144.8 L972.7 144.1 L973.4 143.3 L974.0 142.6 L974.7 141.8 L975.4 141.1 L976.0 140.3 L976.7 139.5 L977.3 138.8 L978.0 138.0 L978.6 137.3 L979.3 136.5 L979.9 135.7 L980.6 135.0 L981.2 134.2 L981.9 133.5 L982.5 132.7 L983.2 131.9 L983.8 131.2 L984.4 130.4 L985.1 129.6 L985.7 128.9 L986.4 128.1 L987.0 127.3 L987.7 126.6 L988.3 125.8 L988.9 125.0 L989.6 124.3 L990.2 123.5 L990.9 122.7 L991.5 121.9 L992.1 121.2 L992.8 120.4 L993.4 119.6 L994.1 118.9 L994.7 118.1 L995.3 117.3 L996.0 116.5 L996.6 115.8 L997.2 115.0 L997.9 114.2 L998.5 113.5 L999.2 112.7 L999.8 111.9 L1000.4 111.1 L1001.1 110.4 L1001.7 109.6 L1002.3 108.8 L1003.0 108.1 L1003.6 107.3 L1004.2 106.5 L1004.9 105.7 L1005.5 105.0 L1006.2 104.2 L1006.8 103.4 L1007.4 102.6 L1008.1 101.9 L1008.7 101.1 L1009.3 100.3 L1010.0 99.6 L1010.6 98.8 L1011.3 98.0 L1011.9 97.3 L1012.5 96.5 L1013.2 95.7 L1013.8 94.9 L1014.5 94.2 L1015.1 93.4 L1015.8 92.6 L1016.4 91.9" stroke="#3C08EC" stroke-width="5.8"/>
<path d="M121.4 714.0 H1016.4" stroke="#3C08EC" stroke-width="7.5" stroke-dasharray="27.8 27.5"/>
</g>
<g font-family="'Liberation Sans', Arial, sans-serif" fill="#262626" stroke="#262626" stroke-width="0.6" font-size="31.8">
<text x="119.9" y="787.5" text-anchor="middle">-5</text>
<text x="209.4" y="787.5" text-anchor="middle">-4</text>
<text x="298.9" y="787.5" text-anchor="middle">-3</text>
<text x="388.4" y="787.5" text-anchor="middle">-2</text>
<text x="477.9" y="787.5" text-anchor="middle">-1</text>
<text x="567.9" y="787.5" text-anchor="middle">0</text>
<text x="656.9" y="787.5" text-anchor="middle">1</text>
<text x="746.4" y="787.5" text-anchor="middle">2</text>
<text x="835.9" y="787.5" text-anchor="middle">3</text>
<text x="925.4" y="787.5" text-anchor="middle">4</text>
<text x="1014.9" y="787.5" text-anchor="middle">5</text>
<text x="106.5" y="24.4" text-anchor="end">1.5</text>
<text x="106.5" y="283.7" text-anchor="end">1</text>
<text x="106.5" y="727.0" text-anchor="end">0.5</text>
</g>
<g font-family="'Liberation Sans', Arial, sans-serif" fill="#262626" stroke="#262626" stroke-width="0.6" font-size="37.5">
<text x="511.5" y="839.8">z<tspan font-size="30" dy="17.6">f</tspan><tspan dy="-17.6"> [</tspan><tspan font-style="italic">μ</tspan>m]</text>
<text transform="translate(28.2 467.8) rotate(-90)"><tspan font-style="italic" font-size="33" stroke-width="0" dy="1.4">σ</tspan><tspan font-size="30.3" dy="17.8">CRB,m</tspan><tspan dy="-19.2"> / m</tspan></text>
</g>
<g fill="none" stroke-width="6.4">
<path d="M667.6 70 H757" stroke="#08ECF0" stroke-width="6.4" stroke-dasharray="5.3 3.94"/>
<path d="M668 120 H760" stroke="#08ECF0"/>
<path d="M668 169.9 H760" stroke="#3C08EC"/>
<path d="M668 219.6 H760" stroke="#000"/>
</g>
<g font-family="'Liberation Sans', Arial, sans-serif" fill="#000" stroke="#000" stroke-width="0.75" font-size="37.2">
<text x="766.8" y="85.6">iSCAT*</text>
<text x="766.8" y="135.6">iSCAT</text>
<text x="766.8" y="185.4">COBRI</text>
<text x="766.8" y="235.2">DF</text>
</g>
</svg>
</body></html>
